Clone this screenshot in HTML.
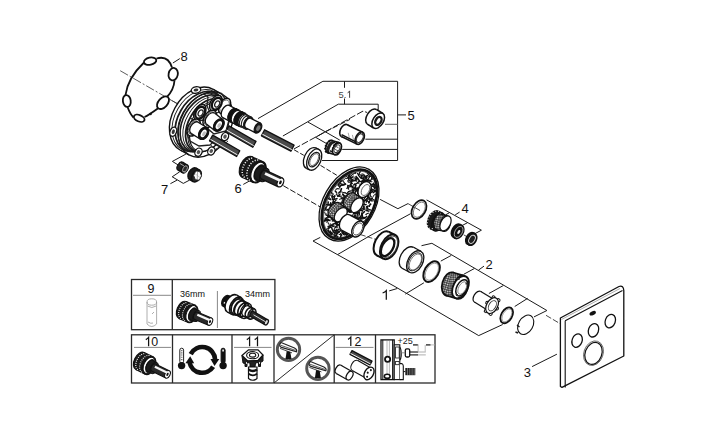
<!DOCTYPE html>
<html><head><meta charset="utf-8">
<style>
html,body{margin:0;padding:0;background:#fff;width:710px;height:434px;overflow:hidden}
svg{display:block}
text{font-family:"Liberation Sans",sans-serif}
</style></head><body>
<svg width="710" height="434" viewBox="0 0 710 434">
<rect width="710" height="434" fill="#fff"/>
<path d="M258.0,118.6 L322.9,81.3 L397.6,81.3 L397.6,160.5" fill="none" stroke="#1a1a1a" stroke-width="1.0"/>
<path d="M344.5,81.3 L344.5,87.8" fill="none" stroke="#1a1a1a" stroke-width="1.0"/>
<path d="M344.5,98.5 L344.5,104.2" fill="none" stroke="#1a1a1a" stroke-width="1.0"/>
<path d="M282.9,136.0 L338.3,104.2 L378.2,104.2 L378.2,109.8" fill="none" stroke="#1a1a1a" stroke-width="1.0"/>
<path d="M293.9,149.0 L363.0,111.1 L367.2,112.5" fill="none" stroke="#1a1a1a" stroke-width="1.0" stroke-dasharray="7 2"/>
<path d="M308.0,122.1 L325.3,131.8 L339.8,140.1" fill="none" stroke="#1a1a1a" stroke-width="1.0"/>
<path d="M325.3,131.8 L350.0,119.4" fill="none" stroke="#1a1a1a" stroke-width="1.0" stroke-dasharray="6 2"/>
<path d="M315.6,137.3 L325.3,131.8" fill="none" stroke="#1a1a1a" stroke-width="1.0"/>
<path d="M315.6,137.3 L327.3,144.0" fill="none" stroke="#1a1a1a" stroke-width="1.0"/>
<path d="M385.0,124.3 L397.6,124.3" fill="none" stroke="#666" stroke-width="1.0"/>
<path d="M365.4,139.2 L397.6,139.2" fill="none" stroke="#1a1a1a" stroke-width="1.0"/>
<path d="M342.2,149.4 L397.6,149.4" fill="none" stroke="#1a1a1a" stroke-width="1.0"/>
<path d="M322.0,160.5 L397.6,160.5" fill="none" stroke="#1a1a1a" stroke-width="1.0"/>
<path d="M397.6,114.9 L406.0,114.9" fill="none" stroke="#1a1a1a" stroke-width="1.0"/>
<path d="M294.1,149.8 L303.8,155.3" fill="none" stroke="#1a1a1a" stroke-width="1.0" stroke-dasharray="5 2"/>
<path d="M320.5,165.4 L338.0,176.0" fill="none" stroke="#1a1a1a" stroke-width="1.0" stroke-dasharray="5 2"/>
<path d="M172.9,63.0 L179.8,58.6" fill="none" stroke="#1a1a1a" stroke-width="1.0"/>
<path d="M120.2,70.7 L177.2,103.6" fill="none" stroke="#333" stroke-width="0.8" stroke-dasharray="9 2 2 2"/>
<path d="M185.9,154.1 L172.4,161.4 L178.2,165.0" fill="none" stroke="#1a1a1a" stroke-width="1.0"/>
<path d="M179.7,171.8 L172.2,176.8 L183.3,183.4 L189.6,180.1" fill="none" stroke="#1a1a1a" stroke-width="1.0"/>
<path d="M170.4,183.7 L177.1,180.1" fill="none" stroke="#1a1a1a" stroke-width="1.0"/>
<path d="M243.3,184.4 L250.9,180.2" fill="none" stroke="#1a1a1a" stroke-width="1.0"/>
<path d="M283.3,185.7 L320.0,206.8" fill="none" stroke="#1a1a1a" stroke-width="1.0" stroke-dasharray="6 2"/>
<text x="180.5" y="61.2" font-size="13" fill="#111">8</text>
<text x="161" y="193.6" font-size="13" fill="#111">7</text>
<text x="234.6" y="192.6" font-size="13" fill="#111">6</text>
<text x="407.6" y="119.9" font-size="13" fill="#111">5</text>
<text x="461.4" y="213.3" font-size="13" fill="#111">4</text>
<text x="485.6" y="269.3" font-size="13" fill="#111">2</text>
<path d="M382.6,293.0 Q385.1,292.09999999999997 386.3,290.7 L386.3,299.8" fill="none" stroke="#111" stroke-width="1.25"/>
<text x="523.8" y="377.1" font-size="13" fill="#111">3</text>
<text x="338.6" y="97.8" font-size="9.4" fill="#444">5.</text>
<path d="M347.6,92.8 Q349.1,92.3 349.6,90.9 L349.6,97.8" fill="none" stroke="#444" stroke-width="1"/>
<ellipse cx="372.0" cy="116.8" rx="5.2" ry="8.6" transform="rotate(32.17121712854467 372.0 116.8)" fill="#fff" stroke="#111" stroke-width="1.5" />
<path d="M367.4,124.1 L373.6,128.0 L382.8,113.4 L376.6,109.5Z" fill="#fff" stroke="none"/>
<path d="M367.4,124.1 L373.6,128.0" fill="none" stroke="#111" stroke-width="1.5"/>
<path d="M376.6,109.5 L382.8,113.4" fill="none" stroke="#111" stroke-width="1.5"/>
<ellipse cx="378.2" cy="120.7" rx="5.2" ry="8.6" transform="rotate(32.17121712854467 378.2 120.7)" fill="#fff" stroke="#111" stroke-width="1.5" />
<ellipse cx="378.4" cy="120.9" rx="2.7" ry="4.3" transform="rotate(30 378.4 120.9)" fill="#fff" stroke="#1a1a1a" stroke-width="2.4" />
<ellipse cx="344.3" cy="130.6" rx="4.0" ry="6.6" transform="rotate(26.11975615699283 344.3 130.6)" fill="#fff" stroke="#111" stroke-width="1.6" />
<path d="M341.4,136.5 L356.9,144.1 L362.7,132.3 L347.2,124.7Z" fill="#fff" stroke="none"/>
<path d="M341.4,136.5 L356.9,144.1" fill="none" stroke="#111" stroke-width="1.6"/>
<path d="M347.2,124.7 L362.7,132.3" fill="none" stroke="#111" stroke-width="1.6"/>
<ellipse cx="359.8" cy="138.2" rx="4.0" ry="6.6" transform="rotate(26.11975615699283 359.8 138.2)" fill="#fff" stroke="#111" stroke-width="1.6" />
<path d="M348.2,132.8 L349.3,137.6" fill="none" stroke="#666" stroke-width="0.6"/>
<path d="M352.4,134.9 L353.5,139.7" fill="none" stroke="#666" stroke-width="0.6"/>
<path d="M356.6,137.1 L357.6,141.8" fill="none" stroke="#666" stroke-width="0.6"/>
<path d="M341.6,134.6 L356.8,142.4" fill="none" stroke="#111" stroke-width="1.6"/>
<ellipse cx="359.8" cy="138.2" rx="2.8" ry="4.6" transform="rotate(30 359.8 138.2)" fill="#fff" stroke="#333" stroke-width="1.0" />
<ellipse cx="359.8" cy="138.2" rx="3.4" ry="5.4" transform="rotate(30 359.8 138.2)" fill="none" stroke="#222" stroke-width="1" stroke-dasharray="1 1"/>
<ellipse cx="329.8" cy="146.6" rx="3.8" ry="6.4" transform="rotate(16.26020470831194 329.8 146.6)" fill="#fff" stroke="#111" stroke-width="1.6" />
<path d="M328.0,152.7 L335.2,154.8 L338.8,142.6 L331.6,140.5Z" fill="#fff" stroke="none"/>
<path d="M328.0,152.7 L335.2,154.8" fill="none" stroke="#111" stroke-width="1.6"/>
<path d="M331.6,140.5 L338.8,142.6" fill="none" stroke="#111" stroke-width="1.6"/>
<ellipse cx="337.0" cy="148.7" rx="3.8" ry="6.4" transform="rotate(16.26020470831194 337.0 148.7)" fill="#fff" stroke="#111" stroke-width="1.6" />
<path d="M332.8,141.3 A3.8,6.4 28 0 0 327,152 L330,153.5 A3.8,6.4 28 0 1 335.5,142.8 Z" fill="#222"/>
<ellipse cx="329.8" cy="146.6" rx="3.9" ry="6.4" transform="rotate(28 329.8 146.6)" fill="none" stroke="#111" stroke-width="2.2" stroke-dasharray="1.6 1.2"/>
<ellipse cx="337.0" cy="148.7" rx="3.8" ry="6.3" transform="rotate(30 337.0 148.7)" fill="#fff" stroke="#111" stroke-width="1.6" />
<ellipse cx="337.0" cy="148.7" rx="2.4" ry="4.2" transform="rotate(30 337.0 148.7)" fill="none" stroke="#333" stroke-width="1.0" />
<path d="M335.2,146.0 L338.5,147.8" fill="none" stroke="#333" stroke-width="0.8"/>
<path d="M334.8,149.2 L338.2,151.0" fill="none" stroke="#333" stroke-width="0.8"/>
<ellipse cx="311.0" cy="158.2" rx="6.7" ry="11.2" transform="rotate(23.629377730656977 311.0 158.2)" fill="#fff" stroke="#111" stroke-width="1.3" />
<path d="M306.5,168.5 L309.7,169.9 L318.7,149.3 L315.5,147.9Z" fill="#fff" stroke="none"/>
<path d="M306.5,168.5 L309.7,169.9" fill="none" stroke="#111" stroke-width="1.3"/>
<path d="M315.5,147.9 L318.7,149.3" fill="none" stroke="#111" stroke-width="1.3"/>
<ellipse cx="314.2" cy="159.6" rx="6.7" ry="11.2" transform="rotate(23.629377730656977 314.2 159.6)" fill="#fff" stroke="#111" stroke-width="1.3" />
<ellipse cx="314.2" cy="159.6" rx="4.6" ry="8.0" transform="rotate(30 314.2 159.6)" fill="none" stroke="#1a1a1a" stroke-width="1.2" />
<ellipse cx="314.2" cy="159.6" rx="3.4" ry="6.6" transform="rotate(30 314.2 159.6)" fill="none" stroke="#444" stroke-width="0.7" />
<path d="M156.5,58.5 C163,56.5 169,58 172,67.5 M174.5,80.5 C174,88 170,94 166.5,97.5 M158.5,108 C153,112 148,115.5 144.5,117 M133.5,117.5 C131,115 129,111 127.5,107 M125.5,95 C127,84 134,72 144,62.5" fill="none" stroke="#111" stroke-width="1.8"/>
<ellipse cx="150.1" cy="61.2" rx="6.3" ry="3.6" transform="rotate(-12 150.1 61.2)" fill="#fff" stroke="#111" stroke-width="1.8" />
<ellipse cx="173.2" cy="74.2" rx="4.6" ry="6.3" transform="rotate(12 173.2 74.2)" fill="#fff" stroke="#111" stroke-width="1.8" />
<ellipse cx="163.0" cy="102.7" rx="7.4" ry="4.6" transform="rotate(-48 163.0 102.7)" fill="#fff" stroke="#111" stroke-width="1.8" />
<ellipse cx="126.8" cy="101.0" rx="3.9" ry="6.0" transform="rotate(-8 126.8 101.0)" fill="#fff" stroke="#111" stroke-width="1.8" />
<ellipse cx="139.2" cy="118.3" rx="5.6" ry="3.2" transform="rotate(22 139.2 118.3)" fill="#fff" stroke="#111" stroke-width="1.8" />
<circle cx="150.5" cy="114" r="1.3" fill="#111"/>
<path d="M169.6,99.3 L177.7,103.9" fill="none" stroke="#333" stroke-width="0.8"/>
<ellipse cx="196.8" cy="119.8" rx="24.9" ry="34.6" transform="rotate(28.37924308610799 196.8 119.8)" fill="#fff" stroke="#111" stroke-width="1.4" />
<path d="M180.4,150.2 L189.1,154.9 L221.9,94.1 L213.2,89.4Z" fill="#fff" stroke="none"/>
<path d="M180.4,150.2 L189.1,154.9" fill="none" stroke="#111" stroke-width="1.4"/>
<path d="M213.2,89.4 L221.9,94.1" fill="none" stroke="#111" stroke-width="1.4"/>
<ellipse cx="205.5" cy="124.5" rx="24.9" ry="34.6" transform="rotate(28.37924308610799 205.5 124.5)" fill="#fff" stroke="#111" stroke-width="1.4" />
<ellipse cx="198.3" cy="120.6" rx="23.5" ry="33.2" transform="rotate(30 198.3 120.6)" fill="none" stroke="#1a1a1a" stroke-width="0.9" />
<ellipse cx="200.2" cy="121.6" rx="22.3" ry="32.2" transform="rotate(30 200.2 121.6)" fill="none" stroke="#1a1a1a" stroke-width="1.7" />
<ellipse cx="201.9" cy="122.5" rx="21.4" ry="31.4" transform="rotate(30 201.9 122.5)" fill="none" stroke="#1a1a1a" stroke-width="0.9" />
<ellipse cx="203.5" cy="123.4" rx="20.4" ry="30.6" transform="rotate(30 203.5 123.4)" fill="none" stroke="#1a1a1a" stroke-width="1.6" />
<ellipse cx="205.2" cy="124.2" rx="19.4" ry="29.7" transform="rotate(30 205.2 124.2)" fill="none" stroke="#1a1a1a" stroke-width="0.9" />
<ellipse cx="207.0" cy="125.2" rx="18.4" ry="28.8" transform="rotate(30 207.0 125.2)" fill="none" stroke="#1a1a1a" stroke-width="1.8" />
<ellipse cx="208.5" cy="126.0" rx="17.6" ry="28.0" transform="rotate(30 208.5 126.0)" fill="none" stroke="#1a1a1a" stroke-width="1.0" />
<ellipse cx="209.5" cy="126.5" rx="16.8" ry="27.2" transform="rotate(30 209.5 126.5)" fill="#fff" stroke="#111" stroke-width="1.2" />
<ellipse cx="173.3" cy="131.7" rx="3.2" ry="4.8" transform="rotate(20 173.3 131.7)" fill="#fff" stroke="#111" stroke-width="1.3" />
<ellipse cx="173.3" cy="131.7" rx="1.5" ry="2.4" transform="rotate(20 173.3 131.7)" fill="#333" stroke="none" stroke-width="0" />
<ellipse cx="196.0" cy="90.0" rx="3.2" ry="4.8" transform="rotate(80 196.0 90.0)" fill="#fff" stroke="#111" stroke-width="1.3" />
<ellipse cx="196.0" cy="90.0" rx="1.5" ry="2.4" transform="rotate(80 196.0 90.0)" fill="#333" stroke="none" stroke-width="0" />
<path d="M204.0,94.0 L208.0,97.0 L207.0,106.0 L211.0,115.0 L222.0,111.0 L226.0,100.0 L221.0,93.0" fill="none" stroke="#222" stroke-width="1.3"/>
<path d="M190.0,118.0 L196.0,121.0 L204.0,120.0 L207.0,128.0 L214.0,134.0 L226.0,131.0 L229.0,120.0" fill="none" stroke="#222" stroke-width="1.3"/>
<path d="M186.0,132.0 L190.0,141.0 L199.0,146.0 L210.0,145.0 L216.0,139.0" fill="none" stroke="#222" stroke-width="1.3"/>
<path d="M211.0,145.0 L214.0,150.0 L222.0,146.0 L228.0,141.0" fill="none" stroke="#333" stroke-width="1.0"/>
<ellipse cx="225.0" cy="136.6" rx="3.4" ry="4.2" transform="rotate(30 225.0 136.6)" fill="#fff" stroke="#111" stroke-width="1.3" />
<ellipse cx="225.0" cy="136.6" rx="1.7" ry="2.1" transform="rotate(30 225.0 136.6)" fill="#555" stroke="none" stroke-width="0" />
<ellipse cx="211.3" cy="151.0" rx="3.4" ry="4.2" transform="rotate(30 211.3 151.0)" fill="#fff" stroke="#111" stroke-width="1.3" />
<ellipse cx="211.3" cy="151.0" rx="1.7" ry="2.1" transform="rotate(30 211.3 151.0)" fill="#555" stroke="none" stroke-width="0" />
<ellipse cx="198.5" cy="152.2" rx="3.4" ry="4.3" transform="rotate(30 198.5 152.2)" fill="#fff" stroke="#111" stroke-width="1.3" />
<ellipse cx="198.5" cy="152.2" rx="1.7" ry="2.1" transform="rotate(30 198.5 152.2)" fill="#555" stroke="none" stroke-width="0" />
<ellipse cx="215.8" cy="103.2" rx="5.3" ry="8.6" transform="rotate(30 215.8 103.2)" fill="#fff" stroke="#111" stroke-width="1.5" />
<ellipse cx="215.8" cy="103.2" rx="4.2" ry="6.8" transform="rotate(30 215.8 103.2)" fill="none" stroke="#444" stroke-width="0.8" />
<ellipse cx="199.8" cy="112.2" rx="5.2" ry="8.4" transform="rotate(30 199.8 112.2)" fill="#fff" stroke="#111" stroke-width="1.5" />
<ellipse cx="199.8" cy="112.2" rx="4.1" ry="6.6" transform="rotate(30 199.8 112.2)" fill="none" stroke="#444" stroke-width="0.8" />
<ellipse cx="209.8" cy="118.8" rx="5.8" ry="9.4" transform="rotate(30 209.8 118.8)" fill="#fff" stroke="#111" stroke-width="1.5" />
<ellipse cx="209.8" cy="118.8" rx="4.7" ry="7.6" transform="rotate(30 209.8 118.8)" fill="none" stroke="#444" stroke-width="0.8" />
<ellipse cx="193.8" cy="127.6" rx="5.7" ry="9.2" transform="rotate(30 193.8 127.6)" fill="#fff" stroke="#111" stroke-width="1.5" />
<ellipse cx="193.8" cy="127.6" rx="4.6" ry="7.4" transform="rotate(30 193.8 127.6)" fill="none" stroke="#444" stroke-width="0.8" />
<ellipse cx="224.5" cy="106.0" rx="5.2" ry="8.4" transform="rotate(30 224.5 106.0)" fill="#fff" stroke="#111" stroke-width="1.5" />
<ellipse cx="224.5" cy="106.0" rx="4.1" ry="6.6" transform="rotate(30 224.5 106.0)" fill="none" stroke="#444" stroke-width="0.8" />
<ellipse cx="216.8" cy="103.7" rx="4.4" ry="6.3" transform="rotate(30 216.8 103.7)" fill="#fff" stroke="#111" stroke-width="2.2" />
<ellipse cx="217.2" cy="104.0" rx="2.2" ry="3.3" transform="rotate(30 217.2 104.0)" fill="#fff" stroke="#222" stroke-width="1.2" />
<ellipse cx="200.2" cy="112.7" rx="4.4" ry="6.3" transform="rotate(30 200.2 112.7)" fill="#fff" stroke="#111" stroke-width="2.2" />
<ellipse cx="200.6" cy="113.0" rx="2.2" ry="3.3" transform="rotate(30 200.6 113.0)" fill="#fff" stroke="#222" stroke-width="1.2" />
<ellipse cx="210.6" cy="118.6" rx="4.2" ry="6.8" transform="rotate(38.40326170210573 210.6 118.6)" fill="#fff" stroke="#111" stroke-width="1.3" />
<path d="M206.4,123.9 L214.6,130.4 L223.0,119.8 L214.8,113.3Z" fill="#fff" stroke="none"/>
<path d="M206.4,123.9 L214.6,130.4" fill="none" stroke="#111" stroke-width="1.3"/>
<path d="M214.8,113.3 L223.0,119.8" fill="none" stroke="#111" stroke-width="1.3"/>
<ellipse cx="218.8" cy="125.1" rx="4.2" ry="6.8" transform="rotate(38.40326170210573 218.8 125.1)" fill="#fff" stroke="#111" stroke-width="1.3" />
<ellipse cx="218.8" cy="125.1" rx="3.9" ry="5.8" transform="rotate(30 218.8 125.1)" fill="#fff" stroke="#111" stroke-width="2.8" />
<ellipse cx="219.2" cy="125.4" rx="1.6" ry="2.6" transform="rotate(30 219.2 125.4)" fill="#bbb" stroke="none" stroke-width="0" />
<ellipse cx="194.6" cy="127.8" rx="4.1" ry="6.6" transform="rotate(31.890791801845747 194.6 127.8)" fill="#fff" stroke="#111" stroke-width="1.3" />
<path d="M191.1,133.4 L200.1,139.0 L207.1,127.8 L198.1,122.2Z" fill="#fff" stroke="none"/>
<path d="M191.1,133.4 L200.1,139.0" fill="none" stroke="#111" stroke-width="1.3"/>
<path d="M198.1,122.2 L207.1,127.8" fill="none" stroke="#111" stroke-width="1.3"/>
<ellipse cx="203.6" cy="133.4" rx="4.1" ry="6.6" transform="rotate(31.890791801845747 203.6 133.4)" fill="#fff" stroke="#111" stroke-width="1.3" />
<ellipse cx="203.6" cy="133.4" rx="3.8" ry="5.6" transform="rotate(30 203.6 133.4)" fill="#fff" stroke="#111" stroke-width="2.8" />
<ellipse cx="204.0" cy="133.7" rx="1.6" ry="2.6" transform="rotate(30 204.0 133.7)" fill="#bbb" stroke="none" stroke-width="0" />
<path d="M209.5,140.9 L236.6,156.5 L239.8,150.7 L212.7,135.1Z" fill="#4a4a4a" stroke="#111" stroke-width="1.3" stroke-linejoin="round"/>
<path d="M210.4,139.3 L237.5,154.9" fill="none" stroke="#eee" stroke-width="1.0"/>
<path d="M225.7,131.7 L252.8,147.2 L256.0,141.4 L228.9,125.9Z" fill="#4a4a4a" stroke="#111" stroke-width="1.3" stroke-linejoin="round"/>
<path d="M226.6,130.1 L253.7,145.6" fill="none" stroke="#eee" stroke-width="1.0"/>
<path d="M261.4,135.8 L290.9,151.2 L294.1,145.2 L264.6,129.8Z" fill="#4a4a4a" stroke="#111" stroke-width="1.3" stroke-linejoin="round"/>
<path d="M262.3,134.2 L291.8,149.6" fill="none" stroke="#eee" stroke-width="1.0"/>
<ellipse cx="226.0" cy="111.5" rx="4.1" ry="6.9" transform="rotate(27.824096384253277 226.0 111.5)" fill="#fff" stroke="#111" stroke-width="1.3" />
<path d="M222.8,117.6 L230.0,121.4 L236.4,109.2 L229.2,105.4Z" fill="#fff" stroke="none"/>
<path d="M222.8,117.6 L230.0,121.4" fill="none" stroke="#111" stroke-width="1.3"/>
<path d="M229.2,105.4 L236.4,109.2" fill="none" stroke="#111" stroke-width="1.3"/>
<ellipse cx="233.2" cy="115.3" rx="4.1" ry="6.9" transform="rotate(27.824096384253277 233.2 115.3)" fill="#fff" stroke="#111" stroke-width="1.3" />
<ellipse cx="232.8" cy="115.1" rx="4.3" ry="7.1" transform="rotate(26.565051177078193 232.8 115.1)" fill="#111" stroke="#111" stroke-width="1.3" />
<path d="M229.6,121.5 L232.8,123.1 L239.2,110.3 L236.0,108.7Z" fill="#111" stroke="none"/>
<path d="M229.6,121.5 L232.8,123.1" fill="none" stroke="#111" stroke-width="1.3"/>
<path d="M236.0,108.7 L239.2,110.3" fill="none" stroke="#111" stroke-width="1.3"/>
<ellipse cx="236.0" cy="116.7" rx="4.3" ry="7.1" transform="rotate(26.565051177078193 236.0 116.7)" fill="#fff" stroke="#111" stroke-width="1.3" />
<ellipse cx="236.0" cy="116.7" rx="4.1" ry="6.9" transform="rotate(28.072486935852876 236.0 116.7)" fill="#fff" stroke="#111" stroke-width="1.3" />
<path d="M232.8,122.8 L235.8,124.4 L242.2,112.2 L239.2,110.6Z" fill="#fff" stroke="none"/>
<path d="M232.8,122.8 L235.8,124.4" fill="none" stroke="#111" stroke-width="1.3"/>
<path d="M239.2,110.6 L242.2,112.2" fill="none" stroke="#111" stroke-width="1.3"/>
<ellipse cx="239.0" cy="118.3" rx="4.1" ry="6.9" transform="rotate(28.072486935852876 239.0 118.3)" fill="#fff" stroke="#111" stroke-width="1.3" />
<ellipse cx="239.0" cy="118.3" rx="4.3" ry="7.1" transform="rotate(26.56505117707799 239.0 118.3)" fill="#111" stroke="#111" stroke-width="1.3" />
<path d="M235.8,124.7 L239.4,126.5 L245.8,113.7 L242.2,111.9Z" fill="#111" stroke="none"/>
<path d="M235.8,124.7 L239.4,126.5" fill="none" stroke="#111" stroke-width="1.3"/>
<path d="M242.2,111.9 L245.8,113.7" fill="none" stroke="#111" stroke-width="1.3"/>
<ellipse cx="242.6" cy="120.1" rx="4.3" ry="7.1" transform="rotate(26.56505117707799 242.6 120.1)" fill="#fff" stroke="#111" stroke-width="1.3" />
<ellipse cx="242.6" cy="120.1" rx="3.9" ry="6.5" transform="rotate(27.7185016281834 242.6 120.1)" fill="#fff" stroke="#111" stroke-width="1.3" />
<path d="M239.6,125.9 L245.5,129.0 L251.5,117.4 L245.6,114.3Z" fill="#fff" stroke="none"/>
<path d="M239.6,125.9 L245.5,129.0" fill="none" stroke="#111" stroke-width="1.3"/>
<path d="M245.6,114.3 L251.5,117.4" fill="none" stroke="#111" stroke-width="1.3"/>
<ellipse cx="248.5" cy="123.2" rx="3.9" ry="6.5" transform="rotate(27.7185016281834 248.5 123.2)" fill="#fff" stroke="#111" stroke-width="1.3" />
<ellipse cx="243.8" cy="120.7" rx="3.8" ry="6.4" transform="rotate(28 243.8 120.7)" fill="none" stroke="#222" stroke-width="1.1" />
<ellipse cx="245.8" cy="121.8" rx="3.8" ry="6.4" transform="rotate(28 245.8 121.8)" fill="none" stroke="#222" stroke-width="1.1" />
<ellipse cx="247.9" cy="122.9" rx="3.8" ry="6.4" transform="rotate(28 247.9 122.9)" fill="none" stroke="#222" stroke-width="1.1" />
<ellipse cx="248.5" cy="123.2" rx="3.2" ry="5.4" transform="rotate(26.80578832979978 248.5 123.2)" fill="#fff" stroke="#111" stroke-width="1.4" />
<path d="M246.1,128.0 L255.6,132.8 L260.4,123.2 L250.9,118.4Z" fill="#fff" stroke="none"/>
<path d="M246.1,128.0 L255.6,132.8" fill="none" stroke="#111" stroke-width="1.4"/>
<path d="M250.9,118.4 L260.4,123.2" fill="none" stroke="#111" stroke-width="1.4"/>
<ellipse cx="258.0" cy="128.0" rx="3.2" ry="5.4" transform="rotate(26.80578832979978 258.0 128.0)" fill="#1a1a1a" stroke="#111" stroke-width="1.4" />
<ellipse cx="258.3" cy="128.2" rx="1.8" ry="3.0" transform="rotate(28 258.3 128.2)" fill="#777" stroke="none" stroke-width="0" />
<ellipse cx="180.5" cy="166.2" rx="2.9" ry="4.6" transform="rotate(31.159304508344533 180.5 166.2)" fill="#222" stroke="#111" stroke-width="1.2" />
<path d="M178.1,170.1 L182.4,172.7 L187.2,164.9 L182.9,162.3Z" fill="#222" stroke="none"/>
<path d="M178.1,170.1 L182.4,172.7" fill="none" stroke="#111" stroke-width="1.2"/>
<path d="M182.9,162.3 L187.2,164.9" fill="none" stroke="#111" stroke-width="1.2"/>
<ellipse cx="184.8" cy="168.8" rx="2.9" ry="4.6" transform="rotate(31.159304508344533 184.8 168.8)" fill="#2a2a2a" stroke="#111" stroke-width="1.2" />
<path d="M180.0,163.5 L184.0,166.0" fill="none" stroke="#ccc" stroke-width="0.8"/>
<path d="M182.5,171.0 L186.0,172.5" fill="none" stroke="#aaa" stroke-width="0.6"/>
<ellipse cx="185.0" cy="168.9" rx="2.0" ry="3.4" transform="rotate(30 185.0 168.9)" fill="none" stroke="#bbb" stroke-width="0.7" />
<ellipse cx="192.8" cy="173.8" rx="4.1" ry="6.6" transform="rotate(30.73548770192005 192.8 173.8)" fill="#1c1c1c" stroke="#111" stroke-width="1.4" />
<path d="M189.4,179.5 L193.1,181.7 L199.9,170.3 L196.2,168.1Z" fill="#1c1c1c" stroke="none"/>
<path d="M189.4,179.5 L193.1,181.7" fill="none" stroke="#111" stroke-width="1.4"/>
<path d="M196.2,168.1 L199.9,170.3" fill="none" stroke="#111" stroke-width="1.4"/>
<ellipse cx="196.5" cy="176.0" rx="4.1" ry="6.6" transform="rotate(30.73548770192005 196.5 176.0)" fill="#2a2a2a" stroke="#111" stroke-width="1.4" />
<path d="M195.8,171 L199.8,171.6 L201.5,175.8 L199.3,180.2 L195.3,179.7 L193.6,175.4 Z" fill="#fff" stroke="#222" stroke-width="0.9"/>
<path d="M197.6,171.4 L197.2,179.9" fill="none" stroke="#777" stroke-width="0.6"/>
<path d="M194.5,173.2 L200.5,178.0" fill="none" stroke="#999" stroke-width="0.5"/>
<ellipse cx="349.0" cy="204.0" rx="25.8" ry="40.0" transform="rotate(30 349.0 204.0)" fill="#fff" stroke="#111" stroke-width="1.3" />
<ellipse cx="349.4" cy="204.2" rx="23.6" ry="37.6" transform="rotate(30 349.4 204.2)" fill="#6a6a6a" stroke="#111" stroke-width="2.6" />
<clipPath id="discclip"><ellipse cx="349.8" cy="204.5" rx="22.5" ry="36" transform="rotate(30 349.8 204.5)"/></clipPath>
<g clip-path="url(#discclip)">
<ellipse cx="349.8" cy="204.5" rx="21.6" ry="35.6" transform="rotate(30 349.8 204.5)" fill="#fff"/>
<path d="M340.2,213.4 Q339.5,211.4 338.3,210.7" fill="none" stroke="#111" stroke-width="0.9"/>
<path d="M346.3,202.1 Q342.7,202.4 343.3,203.4" fill="none" stroke="#111" stroke-width="1.5"/>
<path d="M350.2,218.5 Q348.3,215.6 345.5,213.7" fill="none" stroke="#111" stroke-width="1.6"/>
<path d="M361.9,222.6 Q359.5,223.4 361.0,226.1" fill="none" stroke="#111" stroke-width="1.5"/>
<path d="M343.5,229.6 Q342.3,225.7 340.6,226.2" fill="none" stroke="#111" stroke-width="0.9"/>
<path d="M339.8,231.7 Q338.3,232.4 336.0,233.6" fill="none" stroke="#111" stroke-width="1.1"/>
<path d="M368.7,182.0 Q368.9,186.5 368.8,187.3" fill="none" stroke="#111" stroke-width="1.4"/>
<path d="M328.0,231.9 Q331.0,231.8 331.5,235.1" fill="none" stroke="#111" stroke-width="1.2"/>
<path d="M361.3,219.4 Q363.4,215.9 361.8,214.2" fill="none" stroke="#111" stroke-width="1.4"/>
<path d="M345.4,184.3 Q344.6,185.0 339.3,186.0" fill="none" stroke="#111" stroke-width="1.4"/>
<path d="M359.0,222.8 Q358.5,218.9 354.8,217.2" fill="none" stroke="#111" stroke-width="1.2"/>
<path d="M350.8,199.6 Q347.1,197.8 347.2,200.5" fill="none" stroke="#111" stroke-width="1.4"/>
<path d="M349.8,219.5 Q345.2,221.3 344.8,223.6" fill="none" stroke="#111" stroke-width="1.3"/>
<path d="M373.5,193.0 Q374.4,190.8 376.2,189.9" fill="none" stroke="#111" stroke-width="1.5"/>
<path d="M358.8,205.4 Q358.3,207.1 360.5,209.0" fill="none" stroke="#111" stroke-width="1.3"/>
<path d="M348.6,206.4 Q346.9,209.8 344.6,208.6" fill="none" stroke="#111" stroke-width="1.4"/>
<path d="M336.3,193.5 Q337.6,193.5 334.8,190.6" fill="none" stroke="#111" stroke-width="1.5"/>
<path d="M364.1,187.9 Q363.4,186.7 361.4,189.9" fill="none" stroke="#111" stroke-width="0.9"/>
<path d="M344.8,217.8 Q341.4,217.4 343.0,220.5" fill="none" stroke="#111" stroke-width="1.0"/>
<path d="M345.6,207.1 Q345.8,203.9 349.5,203.2" fill="none" stroke="#111" stroke-width="1.1"/>
<path d="M340.7,210.2 Q342.5,207.3 344.7,204.5" fill="none" stroke="#111" stroke-width="1.0"/>
<path d="M352.4,220.6 Q350.4,221.3 351.8,226.9" fill="none" stroke="#111" stroke-width="1.6"/>
<path d="M343.8,198.2 Q342.5,200.2 340.8,197.4" fill="none" stroke="#111" stroke-width="1.5"/>
<path d="M355.2,187.6 Q355.4,189.1 352.8,190.3" fill="none" stroke="#111" stroke-width="1.4"/>
<path d="M338.0,214.9 Q341.1,213.2 340.6,208.5" fill="none" stroke="#111" stroke-width="1.5"/>
<path d="M357.8,189.4 Q353.2,186.7 353.4,188.9" fill="none" stroke="#111" stroke-width="1.1"/>
<path d="M333.9,229.9 Q338.4,231.7 338.5,228.6" fill="none" stroke="#111" stroke-width="1.6"/>
<path d="M337.5,212.1 Q336.3,214.6 338.1,215.8" fill="none" stroke="#111" stroke-width="1.5"/>
<path d="M367.4,190.4 Q363.6,188.7 363.9,185.3" fill="none" stroke="#111" stroke-width="1.5"/>
<path d="M368.4,180.0 Q368.0,179.4 364.7,180.5" fill="none" stroke="#111" stroke-width="1.5"/>
<path d="M363.6,207.8 Q362.0,208.2 358.1,211.8" fill="none" stroke="#111" stroke-width="1.0"/>
<path d="M346.4,234.7 Q348.7,235.4 347.7,231.3" fill="none" stroke="#111" stroke-width="1.4"/>
<path d="M330.7,218.3 Q334.1,220.2 332.8,220.6" fill="none" stroke="#111" stroke-width="1.3"/>
<path d="M366.1,202.8 Q366.8,199.3 370.4,198.3" fill="none" stroke="#111" stroke-width="1.1"/>
<path d="M336.9,228.8 Q334.9,233.2 336.6,233.5" fill="none" stroke="#111" stroke-width="1.1"/>
<path d="M332.2,202.6 Q336.2,201.3 336.0,199.9" fill="none" stroke="#111" stroke-width="1.3"/>
<path d="M347.6,202.4 Q343.4,204.6 344.1,203.8" fill="none" stroke="#111" stroke-width="1.0"/>
<path d="M331.3,199.7 Q329.3,199.2 327.2,198.2" fill="none" stroke="#111" stroke-width="1.4"/>
<path d="M352.7,225.4 Q354.1,227.5 352.7,229.5" fill="none" stroke="#111" stroke-width="1.3"/>
<path d="M368.1,175.4 Q365.6,176.4 363.0,177.3" fill="none" stroke="#111" stroke-width="1.4"/>
<path d="M332.6,203.5 Q330.3,205.9 325.9,204.5" fill="none" stroke="#111" stroke-width="1.6"/>
<path d="M335.5,227.3 Q336.7,224.3 341.5,225.1" fill="none" stroke="#111" stroke-width="1.2"/>
<path d="M354.3,216.1 Q358.3,219.3 359.4,218.6" fill="none" stroke="#111" stroke-width="1.0"/>
<path d="M360.8,177.9 Q365.2,179.0 364.9,183.0" fill="none" stroke="#111" stroke-width="1.6"/>
<path d="M331.6,211.3 Q333.1,210.8 337.9,210.9" fill="none" stroke="#111" stroke-width="1.3"/>
<path d="M338.6,213.6 Q334.9,216.5 336.1,219.0" fill="none" stroke="#111" stroke-width="1.2"/>
<path d="M359.5,212.8 Q355.5,213.5 355.9,209.3" fill="none" stroke="#111" stroke-width="1.5"/>
<path d="M356.9,206.2 Q358.1,206.6 356.6,209.4" fill="none" stroke="#111" stroke-width="1.0"/>
<path d="M325.7,209.2 Q324.8,209.5 327.4,205.5" fill="none" stroke="#111" stroke-width="1.3"/>
<path d="M353.2,194.6 Q355.5,193.5 358.6,196.6" fill="none" stroke="#111" stroke-width="1.6"/>
<path d="M350.5,177.1 Q351.1,180.5 356.1,180.3" fill="none" stroke="#111" stroke-width="1.2"/>
<path d="M330.9,219.8 Q330.9,219.0 334.6,218.0" fill="none" stroke="#111" stroke-width="1.1"/>
<path d="M351.1,215.9 Q352.0,215.5 354.7,217.1" fill="none" stroke="#111" stroke-width="1.4"/>
<path d="M334.1,223.9 Q332.7,224.6 336.0,227.9" fill="none" stroke="#111" stroke-width="0.9"/>
<path d="M361.6,180.6 Q364.7,180.9 363.4,185.2" fill="none" stroke="#111" stroke-width="1.5"/>
<path d="M332.4,206.5 Q333.6,205.5 334.7,202.6" fill="none" stroke="#111" stroke-width="1.6"/>
<path d="M326.5,222.7 Q325.3,219.3 325.0,217.4" fill="none" stroke="#111" stroke-width="0.9"/>
<path d="M349.8,212.5 Q348.0,208.5 349.6,208.5" fill="none" stroke="#111" stroke-width="1.5"/>
<path d="M371.2,192.1 Q369.8,193.9 370.4,196.0" fill="none" stroke="#111" stroke-width="1.0"/>
<path d="M337.5,204.5 Q341.1,202.4 344.2,202.9" fill="none" stroke="#111" stroke-width="1.6"/>
<path d="M335.6,219.4 Q337.8,219.5 340.2,219.5" fill="none" stroke="#111" stroke-width="1.0"/>
<path d="M348.5,203.7 Q347.8,203.0 348.2,207.0" fill="none" stroke="#111" stroke-width="0.9"/>
<path d="M338.5,216.9 Q337.6,216.4 334.1,214.3" fill="none" stroke="#111" stroke-width="1.4"/>
<path d="M366.2,196.1 Q362.8,200.3 363.0,202.2" fill="none" stroke="#111" stroke-width="1.4"/>
<path d="M362.1,221.9 Q365.4,221.7 366.4,218.5" fill="none" stroke="#111" stroke-width="1.0"/>
<path d="M338.3,193.5 Q341.5,191.2 341.5,188.1" fill="none" stroke="#111" stroke-width="1.5"/>
<path d="M357.0,177.1 Q355.3,177.9 357.4,180.2" fill="none" stroke="#111" stroke-width="1.0"/>
<path d="M368.7,188.7 Q367.6,186.7 364.8,184.8" fill="none" stroke="#111" stroke-width="0.9"/>
<path d="M369.5,181.5 Q367.8,179.3 364.4,181.4" fill="none" stroke="#111" stroke-width="1.4"/>
<path d="M344.8,213.0 Q343.1,217.1 344.2,218.9" fill="none" stroke="#111" stroke-width="1.6"/>
<path d="M337.6,198.4 Q336.1,199.4 331.9,199.2" fill="none" stroke="#111" stroke-width="1.3"/>
<path d="M353.0,213.8 Q352.0,217.2 352.9,219.8" fill="none" stroke="#111" stroke-width="0.9"/>
<path d="M355.5,215.8 Q355.0,212.2 352.8,210.7" fill="none" stroke="#111" stroke-width="1.3"/>
<path d="M334.4,201.9 Q335.3,206.5 339.2,206.3" fill="none" stroke="#111" stroke-width="1.6"/>
<path d="M361.3,214.2 Q362.5,210.0 364.2,208.0" fill="none" stroke="#111" stroke-width="1.0"/>
<path d="M360.8,204.5 Q359.4,205.8 357.7,202.7" fill="none" stroke="#111" stroke-width="1.0"/>
<path d="M367.2,187.7 Q368.1,187.8 371.6,183.9" fill="none" stroke="#111" stroke-width="1.2"/>
<path d="M350.8,205.4 Q347.4,203.8 346.0,205.7" fill="none" stroke="#111" stroke-width="1.1"/>
<path d="M327.7,226.6 Q332.4,224.7 333.7,226.6" fill="none" stroke="#111" stroke-width="1.5"/>
<path d="M362.3,173.3 Q361.2,178.0 361.2,177.6" fill="none" stroke="#111" stroke-width="1.3"/>
<path d="M332.8,215.5 Q330.5,218.8 332.3,218.7" fill="none" stroke="#111" stroke-width="1.1"/>
<path d="M362.1,203.4 Q360.3,205.3 361.6,208.4" fill="none" stroke="#111" stroke-width="1.6"/>
<path d="M373.4,193.2 Q373.3,191.0 368.9,188.4" fill="none" stroke="#111" stroke-width="1.4"/>
<path d="M360.6,221.6 Q358.5,221.5 354.9,223.4" fill="none" stroke="#111" stroke-width="0.9"/>
<path d="M358.7,203.1 Q355.6,204.7 354.4,203.8" fill="none" stroke="#111" stroke-width="1.6"/>
<path d="M334.3,229.1 Q332.9,229.9 332.6,234.1" fill="none" stroke="#111" stroke-width="1.0"/>
<path d="M338.0,235.9 Q338.1,238.4 334.1,236.0" fill="none" stroke="#111" stroke-width="1.2"/>
<path d="M349.1,218.1 Q348.9,218.0 352.7,220.5" fill="none" stroke="#111" stroke-width="1.1"/>
<path d="M340.7,182.7 Q340.3,180.5 340.7,178.0" fill="none" stroke="#111" stroke-width="1.2"/>
<path d="M343.5,209.7 Q341.0,213.1 342.3,216.4" fill="none" stroke="#111" stroke-width="1.3"/>
<path d="M361.9,196.8 Q361.1,198.5 361.4,200.8" fill="none" stroke="#111" stroke-width="1.6"/>
<path d="M373.8,186.8 Q376.4,189.0 376.9,187.2" fill="none" stroke="#111" stroke-width="1.2"/>
<path d="M349.7,204.2 Q348.7,208.0 344.5,208.4" fill="none" stroke="#111" stroke-width="1.6"/>
<path d="M343.9,214.8 Q346.3,219.1 346.8,219.0" fill="none" stroke="#111" stroke-width="1.4"/>
<path d="M352.4,176.9 Q347.6,179.0 347.3,178.3" fill="none" stroke="#111" stroke-width="1.1"/>
<path d="M370.2,200.2 Q368.4,202.5 369.0,203.5" fill="none" stroke="#111" stroke-width="1.4"/>
<path d="M350.6,212.1 Q347.4,210.3 345.3,211.3" fill="none" stroke="#111" stroke-width="1.3"/>
<path d="M359.6,211.7 Q357.0,214.4 353.0,213.3" fill="none" stroke="#111" stroke-width="1.2"/>
<path d="M341.8,220.4 Q343.7,217.3 347.4,219.0" fill="none" stroke="#111" stroke-width="1.2"/>
<path d="M354.5,183.3 Q356.5,184.7 354.3,188.9" fill="none" stroke="#111" stroke-width="0.9"/>
<path d="M333.4,218.0 Q334.1,217.4 331.8,214.5" fill="none" stroke="#111" stroke-width="1.3"/>
<path d="M338.0,237.0 Q335.4,238.5 335.6,242.8" fill="none" stroke="#111" stroke-width="1.4"/>
<path d="M327.8,230.7 Q324.5,230.4 324.0,230.8" fill="none" stroke="#111" stroke-width="1.4"/>
<path d="M358.9,204.7 Q359.8,204.1 355.9,207.1" fill="none" stroke="#111" stroke-width="0.9"/>
<path d="M356.7,218.1 Q360.5,218.7 362.0,214.2" fill="none" stroke="#111" stroke-width="1.6"/>
<path d="M339.1,214.0 Q339.5,213.7 344.6,211.7" fill="none" stroke="#111" stroke-width="1.2"/>
<path d="M334.7,212.8 Q334.3,213.4 336.2,215.5" fill="none" stroke="#111" stroke-width="1.6"/>
<path d="M350.7,233.7 Q352.9,237.4 351.9,237.9" fill="none" stroke="#111" stroke-width="1.2"/>
<path d="M358.5,218.2 Q354.7,220.0 353.9,223.0" fill="none" stroke="#111" stroke-width="1.5"/>
<path d="M359.6,215.2 Q358.5,210.1 361.9,209.6" fill="none" stroke="#111" stroke-width="0.9"/>
<path d="M362.7,201.8 Q361.8,197.3 362.5,195.2" fill="none" stroke="#111" stroke-width="1.6"/>
<path d="M348.7,189.6 Q347.2,185.0 347.9,185.4" fill="none" stroke="#111" stroke-width="1.4"/>
<path d="M370.1,199.6 Q370.2,199.0 373.0,198.6" fill="none" stroke="#111" stroke-width="1.6"/>
<path d="M364.3,205.5 Q364.3,210.0 364.3,210.2" fill="none" stroke="#111" stroke-width="1.0"/>
<path d="M369.7,182.2 Q371.6,178.6 372.4,176.8" fill="none" stroke="#111" stroke-width="1.1"/>
<path d="M326.8,219.3 Q329.7,218.9 330.1,221.1" fill="none" stroke="#111" stroke-width="0.9"/>
<path d="M360.8,217.4 Q361.1,222.9 357.6,223.5" fill="none" stroke="#111" stroke-width="1.1"/>
<path d="M352.1,212.3 Q348.9,211.0 346.3,212.4" fill="none" stroke="#111" stroke-width="1.2"/>
<path d="M348.6,180.4 Q349.3,175.3 348.5,174.0" fill="none" stroke="#111" stroke-width="1.5"/>
<path d="M332.9,224.8 Q329.3,225.7 328.7,229.1" fill="none" stroke="#111" stroke-width="1.1"/>
<path d="M346.1,234.5 Q343.7,235.9 342.3,232.4" fill="none" stroke="#111" stroke-width="1.3"/>
<path d="M335.7,233.5 Q331.8,230.5 331.8,227.8" fill="none" stroke="#111" stroke-width="1.5"/>
<path d="M374.1,185.1 Q374.2,184.0 378.2,186.1" fill="none" stroke="#111" stroke-width="1.6"/>
<path d="M342.5,180.3 Q340.0,181.4 338.1,184.9" fill="none" stroke="#111" stroke-width="1.4"/>
<path d="M357.6,204.5 Q353.9,202.3 353.1,201.4" fill="none" stroke="#111" stroke-width="1.0"/>
<path d="M343.8,221.2 Q340.1,217.1 339.3,217.9" fill="none" stroke="#111" stroke-width="1.1"/>
<path d="M353.2,190.4 Q354.0,192.4 351.8,193.9" fill="none" stroke="#111" stroke-width="0.9"/>
<path d="M352.7,221.7 Q348.0,219.2 347.4,220.0" fill="none" stroke="#111" stroke-width="1.4"/>
<path d="M336.1,208.5 Q334.0,212.0 333.7,214.8" fill="none" stroke="#111" stroke-width="1.2"/>
<path d="M326.1,210.2 Q326.8,211.3 330.5,210.1" fill="none" stroke="#111" stroke-width="1.0"/>
<path d="M367.2,216.0 Q364.0,219.4 361.7,218.9" fill="none" stroke="#111" stroke-width="1.2"/>
<path d="M349.1,208.4 Q348.6,205.5 343.9,206.7" fill="none" stroke="#111" stroke-width="1.3"/>
<path d="M331.2,215.2 Q332.6,219.0 333.7,218.5" fill="none" stroke="#111" stroke-width="1.0"/>
<path d="M331.8,196.3 Q331.8,198.1 335.5,195.5" fill="none" stroke="#111" stroke-width="1.6"/>
<path d="M345.0,202.8 Q349.0,202.3 349.0,200.7" fill="none" stroke="#111" stroke-width="1.5"/>
<path d="M345.3,233.1 Q347.5,237.0 346.1,237.6" fill="none" stroke="#111" stroke-width="1.0"/>
<path d="M341.0,225.2 Q336.9,223.7 336.5,224.7" fill="none" stroke="#111" stroke-width="1.4"/>
<path d="M355.1,202.5 Q350.0,203.0 349.5,200.2" fill="none" stroke="#111" stroke-width="1.0"/>
<path d="M346.2,184.4 Q344.3,183.3 343.2,181.3" fill="none" stroke="#111" stroke-width="1.2"/>
<path d="M353.0,183.0 Q352.2,183.5 350.1,184.2" fill="none" stroke="#111" stroke-width="1.1"/>
<path d="M367.1,177.9 Q365.1,176.4 363.5,178.9" fill="none" stroke="#111" stroke-width="1.0"/>
<path d="M342.3,205.5 Q337.6,207.0 337.6,207.3" fill="none" stroke="#111" stroke-width="1.0"/>
<path d="M363.8,176.1 Q362.3,175.4 360.6,175.9" fill="none" stroke="#111" stroke-width="1.6"/>
<path d="M348.8,233.0 Q353.3,231.4 354.7,232.8" fill="none" stroke="#111" stroke-width="1.6"/>
<path d="M330.3,195.3 Q333.3,196.5 333.5,193.5" fill="none" stroke="#111" stroke-width="0.9"/>
<path d="M327.4,220.7 Q328.0,225.0 330.9,226.2" fill="none" stroke="#111" stroke-width="1.0"/>
<path d="M331.8,193.5 Q332.3,194.6 332.8,197.4" fill="none" stroke="#111" stroke-width="0.9"/>
<path d="M346.4,217.7 Q351.0,215.0 351.7,215.5" fill="none" stroke="#111" stroke-width="1.4"/>
<path d="M351.5,225.5 Q351.9,224.1 348.6,222.2" fill="none" stroke="#111" stroke-width="1.3"/>
<path d="M358.3,200.3 Q360.5,201.7 363.8,200.1" fill="none" stroke="#111" stroke-width="1.1"/>
<path d="M365.1,211.4 Q362.8,212.1 361.2,216.1" fill="none" stroke="#111" stroke-width="1.4"/>
<path d="M361.4,222.4 Q363.7,225.6 361.3,228.0" fill="none" stroke="#111" stroke-width="1.4"/>
<path d="M348.8,205.5 Q351.1,205.6 352.3,206.3" fill="none" stroke="#111" stroke-width="1.3"/>
<path d="M359.3,200.8 Q357.3,201.0 360.1,206.3" fill="none" stroke="#111" stroke-width="1.1"/>
<path d="M352.1,221.2 Q352.9,222.4 352.9,226.5" fill="none" stroke="#111" stroke-width="1.3"/>
<path d="M341.9,202.3 Q341.9,199.5 345.5,200.8" fill="none" stroke="#111" stroke-width="1.3"/>
<path d="M372.9,191.3 Q368.9,193.2 369.6,193.6" fill="none" stroke="#111" stroke-width="1.3"/>
<path d="M329.1,219.5 Q327.1,219.4 322.8,221.9" fill="none" stroke="#111" stroke-width="1.5"/>
<path d="M359.6,218.4 Q355.7,220.9 356.3,220.6" fill="none" stroke="#111" stroke-width="0.9"/>
<path d="M337.7,184.9 Q339.5,186.4 340.1,187.8" fill="none" stroke="#111" stroke-width="1.3"/>
<path d="M359.8,194.3 Q356.8,198.2 358.3,198.2" fill="none" stroke="#111" stroke-width="1.4"/>
<path d="M350.9,201.9 Q352.4,200.6 354.2,196.9" fill="none" stroke="#111" stroke-width="1.2"/>
<path d="M345.0,215.0 Q344.3,217.9 345.3,218.2" fill="none" stroke="#111" stroke-width="1.4"/>
<path d="M371.4,188.0 Q370.8,192.0 370.9,193.2" fill="none" stroke="#111" stroke-width="1.3"/>
<path d="M334.0,228.5 Q337.8,225.7 337.8,227.7" fill="none" stroke="#111" stroke-width="1.1"/>
<path d="M335.8,232.1 Q337.7,233.0 341.4,230.1" fill="none" stroke="#111" stroke-width="1.1"/>
<path d="M333.9,234.8 Q332.8,235.1 330.0,230.6" fill="none" stroke="#111" stroke-width="1.2"/>
<path d="M371.0,187.4 Q373.6,185.9 374.0,183.7" fill="none" stroke="#111" stroke-width="1.1"/>
<path d="M339.6,230.5 Q340.7,229.7 345.4,233.6" fill="none" stroke="#111" stroke-width="1.0"/>
<path d="M364.5,202.4 Q363.1,204.6 366.4,204.8" fill="none" stroke="#111" stroke-width="1.3"/>
<path d="M359.1,176.1 Q360.8,178.8 364.0,178.3" fill="none" stroke="#111" stroke-width="1.5"/>
<path d="M356.5,201.6 Q361.0,197.2 361.0,196.7" fill="none" stroke="#111" stroke-width="1.0"/>
<path d="M350.3,209.8 Q352.8,208.9 353.9,204.7" fill="none" stroke="#111" stroke-width="1.3"/>
<path d="M342.9,213.3 Q343.9,214.1 347.8,216.8" fill="none" stroke="#111" stroke-width="1.2"/>
<path d="M358.2,212.1 Q356.9,214.1 357.0,217.8" fill="none" stroke="#111" stroke-width="1.6"/>
<path d="M332.6,193.7 Q331.0,192.3 330.3,191.6" fill="none" stroke="#111" stroke-width="1.4"/>
<path d="M328.3,220.7 Q328.2,218.2 324.5,219.8" fill="none" stroke="#111" stroke-width="1.5"/>
<path d="M349.6,205.7 Q352.8,206.1 351.4,211.5" fill="none" stroke="#111" stroke-width="1.2"/>
<path d="M332.0,196.2 Q332.2,200.1 333.9,200.7" fill="none" stroke="#111" stroke-width="1.1"/>
<path d="M362.6,204.3 Q363.3,205.1 363.9,209.9" fill="none" stroke="#111" stroke-width="1.3"/>
<path d="M356.8,226.5 Q356.4,222.9 354.8,220.7" fill="none" stroke="#111" stroke-width="1.2"/>
<path d="M325.2,214.4 Q325.6,214.6 330.8,217.8" fill="none" stroke="#111" stroke-width="1.1"/>
<path d="M368.2,198.0 Q364.5,200.1 363.4,202.5" fill="none" stroke="#111" stroke-width="1.3"/>
<path d="M365.9,177.7 Q363.7,174.3 363.2,174.2" fill="none" stroke="#111" stroke-width="1.5"/>
<path d="M354.4,176.7 Q356.9,179.1 356.7,180.8" fill="none" stroke="#111" stroke-width="1.0"/>
<path d="M328.4,201.4 Q327.5,204.3 328.7,205.1" fill="none" stroke="#111" stroke-width="1.5"/>
<path d="M348.2,217.1 Q348.3,217.6 348.2,221.4" fill="none" stroke="#111" stroke-width="1.1"/>
<path d="M340.3,237.1 Q342.4,233.4 339.9,233.7" fill="none" stroke="#111" stroke-width="1.2"/>
<path d="M368.3,211.4 Q366.6,209.8 367.8,206.7" fill="none" stroke="#111" stroke-width="1.0"/>
<path d="M342.2,225.1 Q345.9,226.5 346.7,226.0" fill="none" stroke="#111" stroke-width="1.3"/>
<path d="M350.1,183.8 Q351.3,187.1 353.5,188.0" fill="none" stroke="#111" stroke-width="1.5"/>
<path d="M330.9,207.0 Q329.6,205.8 330.9,202.3" fill="none" stroke="#111" stroke-width="1.5"/>
<path d="M367.1,180.1 Q369.5,177.6 370.5,175.5" fill="none" stroke="#111" stroke-width="1.1"/>
<path d="M349.7,195.1 Q348.1,197.2 344.4,198.0" fill="none" stroke="#111" stroke-width="1.1"/>
<path d="M332.8,207.6 Q332.0,208.2 329.4,204.4" fill="none" stroke="#111" stroke-width="1.0"/>
<path d="M353.4,176.3 Q353.9,175.6 349.6,179.5" fill="none" stroke="#111" stroke-width="1.3"/>
<path d="M345.3,233.0 Q345.6,232.5 350.0,231.2" fill="none" stroke="#111" stroke-width="1.3"/>
<path d="M359.6,181.1 Q357.7,178.2 355.6,176.2" fill="none" stroke="#111" stroke-width="1.6"/>
<path d="M339.3,231.7 Q335.0,236.1 334.6,235.5" fill="none" stroke="#111" stroke-width="1.1"/>
<path d="M355.9,215.6 Q354.2,216.1 353.4,217.4" fill="none" stroke="#111" stroke-width="1.4"/>
<path d="M336.5,214.0 Q339.2,217.1 337.5,219.9" fill="none" stroke="#111" stroke-width="1.1"/>
<path d="M364.3,188.2 Q366.1,191.4 365.1,191.6" fill="none" stroke="#111" stroke-width="1.3"/>
<path d="M333.2,200.9 Q333.0,205.0 334.2,207.7" fill="none" stroke="#111" stroke-width="1.5"/>
<path d="M366.3,188.0 Q363.7,192.2 364.9,193.0" fill="none" stroke="#111" stroke-width="1.1"/>
<path d="M363.1,194.9 Q361.3,194.7 360.3,197.7" fill="none" stroke="#111" stroke-width="0.9"/>
<path d="M357.4,187.2 Q357.4,188.9 357.5,191.4" fill="none" stroke="#111" stroke-width="1.3"/>
<path d="M352.7,185.1 Q353.4,185.4 358.5,182.3" fill="none" stroke="#111" stroke-width="1.5"/>
<path d="M357.9,194.0 Q356.8,189.1 360.6,189.1" fill="none" stroke="#111" stroke-width="1.6"/>
<path d="M352.0,188.5 Q352.1,190.9 354.8,190.6" fill="none" stroke="#111" stroke-width="1.1"/>
<path d="M346.2,234.8 Q348.6,233.5 347.1,231.2" fill="none" stroke="#111" stroke-width="1.4"/>
<path d="M355.8,173.7 Q355.0,171.6 357.3,167.5" fill="none" stroke="#111" stroke-width="1.3"/>
<path d="M361.1,183.5 Q361.8,180.4 364.9,180.0" fill="none" stroke="#111" stroke-width="1.0"/>
<path d="M345.0,202.2 Q343.2,202.5 341.5,202.9" fill="none" stroke="#111" stroke-width="1.3"/>
<path d="M351.9,203.2 Q353.5,201.9 354.5,199.1" fill="none" stroke="#111" stroke-width="1.5"/>
<path d="M332.8,213.7 Q335.1,214.0 336.0,212.9" fill="none" stroke="#111" stroke-width="0.9"/>
<path d="M347.1,181.1 Q351.5,180.3 351.0,179.3" fill="none" stroke="#111" stroke-width="1.2"/>
<path d="M354.6,202.7 Q353.2,201.8 353.5,197.3" fill="none" stroke="#111" stroke-width="1.2"/>
<path d="M334.1,200.2 Q334.0,197.9 334.6,196.4" fill="none" stroke="#111" stroke-width="1.3"/>
<path d="M363.2,192.3 Q364.3,189.1 365.4,188.2" fill="none" stroke="#111" stroke-width="1.3"/>
<path d="M367.3,209.3 Q367.0,206.3 368.4,205.2" fill="none" stroke="#111" stroke-width="1.3"/>
<path d="M350.6,177.4 Q355.4,178.3 356.3,178.8" fill="none" stroke="#111" stroke-width="0.9"/>
<path d="M348.0,206.6 Q349.8,210.5 350.4,212.8" fill="none" stroke="#111" stroke-width="1.5"/>
<path d="M369.9,198.7 Q368.9,197.3 365.8,195.0" fill="none" stroke="#111" stroke-width="1.4"/>
<path d="M339.1,231.4 Q334.2,230.6 333.3,232.9" fill="none" stroke="#111" stroke-width="0.9"/>
<path d="M369.6,176.7 Q370.0,176.2 367.1,172.9" fill="none" stroke="#111" stroke-width="1.3"/>
<path d="M339.4,221.3 Q337.2,223.0 335.6,223.3" fill="none" stroke="#111" stroke-width="1.6"/>
<path d="M358.8,220.2 Q362.0,221.0 362.1,221.1" fill="none" stroke="#111" stroke-width="1.5"/>
<path d="M347.0,204.5 Q347.1,208.6 342.9,208.0" fill="none" stroke="#111" stroke-width="1.2"/>
<path d="M341.6,206.7 Q338.7,202.8 339.2,203.7" fill="none" stroke="#111" stroke-width="0.9"/>
<path d="M352.9,193.0 Q356.3,190.8 356.1,192.3" fill="none" stroke="#111" stroke-width="0.9"/>
<path d="M356.7,188.4 Q354.3,187.9 356.3,184.7" fill="none" stroke="#111" stroke-width="1.4"/>
<path d="M371.9,189.3 Q375.4,190.5 376.7,192.1" fill="none" stroke="#111" stroke-width="1.6"/>
<path d="M331.7,234.8 Q328.9,234.1 331.0,231.8" fill="none" stroke="#111" stroke-width="1.5"/>
<path d="M354.3,218.2 Q355.9,216.3 353.8,214.6" fill="none" stroke="#111" stroke-width="0.9"/>
<path d="M330.0,216.4 Q325.6,218.9 324.7,218.5" fill="none" stroke="#111" stroke-width="1.2"/>
<path d="M351.8,179.6 Q351.3,183.0 347.9,181.8" fill="none" stroke="#111" stroke-width="1.4"/>
<path d="M344.4,192.2 Q348.6,195.1 350.8,194.8" fill="none" stroke="#111" stroke-width="1.1"/>
<path d="M346.0,176.9 Q346.3,174.2 348.6,172.2" fill="none" stroke="#111" stroke-width="1.5"/>
<path d="M328.1,216.0 Q327.0,213.0 322.8,212.1" fill="none" stroke="#111" stroke-width="0.9"/>
<path d="M337.1,224.1 Q336.4,220.2 331.8,220.9" fill="none" stroke="#111" stroke-width="1.5"/>
<path d="M372.0,181.5 Q371.9,182.1 368.3,179.7" fill="none" stroke="#111" stroke-width="1.4"/>
<path d="M364.9,200.6 Q368.6,200.4 369.4,203.2" fill="none" stroke="#111" stroke-width="1.4"/>
<path d="M361.8,203.1 Q359.4,199.8 357.3,199.5" fill="none" stroke="#111" stroke-width="1.1"/>
<path d="M365.9,176.8 Q365.8,178.6 362.7,177.7" fill="none" stroke="#111" stroke-width="1.1"/>
<path d="M342.1,181.2 Q343.9,180.0 346.0,177.8" fill="none" stroke="#111" stroke-width="1.0"/>
<path d="M345.5,218.5 Q345.2,215.9 344.2,214.3" fill="none" stroke="#111" stroke-width="1.3"/>
<path d="M349.1,211.2 Q349.4,211.8 353.6,211.1" fill="none" stroke="#111" stroke-width="1.5"/>
<path d="M346.4,229.3 Q342.6,229.0 343.6,233.5" fill="none" stroke="#111" stroke-width="1.6"/>
<path d="M368.0,193.4 Q367.6,192.2 364.3,191.7" fill="none" stroke="#111" stroke-width="1.6"/>
<path d="M367.9,177.5 Q367.5,175.6 371.8,176.6" fill="none" stroke="#111" stroke-width="1.0"/>
<path d="M351.5,210.2 Q348.2,211.3 345.4,207.9" fill="none" stroke="#111" stroke-width="1.5"/>
<path d="M357.9,221.8 Q358.8,221.6 355.1,223.9" fill="none" stroke="#111" stroke-width="1.3"/>
<path d="M351.6,174.1 Q350.2,170.4 349.4,170.1" fill="none" stroke="#111" stroke-width="1.6"/>
<path d="M359.2,208.9 Q360.4,211.4 363.1,209.9" fill="none" stroke="#111" stroke-width="1.5"/>
<path d="M355.3,200.0 Q356.7,199.6 356.6,194.3" fill="none" stroke="#111" stroke-width="0.9"/>
<path d="M347.6,231.8 Q349.3,231.1 352.9,229.6" fill="none" stroke="#111" stroke-width="1.4"/>
<path d="M352.1,220.3 Q351.9,220.4 351.9,223.8" fill="none" stroke="#111" stroke-width="1.1"/>
<path d="M348.0,230.2 Q349.4,228.1 353.8,230.7" fill="none" stroke="#111" stroke-width="1.5"/>
<path d="M336.1,236.1 Q336.5,233.4 340.5,231.2" fill="none" stroke="#111" stroke-width="1.0"/>
<path d="M372.7,201.2 Q370.2,201.1 369.4,197.7" fill="none" stroke="#111" stroke-width="1.2"/>
<path d="M349.7,193.1 Q351.1,195.0 350.3,196.3" fill="none" stroke="#111" stroke-width="1.0"/>
<path d="M363.3,196.7 Q360.6,199.4 360.2,198.6" fill="none" stroke="#111" stroke-width="1.1"/>
<path d="M345.4,227.3 Q342.1,232.7 342.7,233.3" fill="none" stroke="#111" stroke-width="0.9"/>
<path d="M371.1,196.0 Q370.6,197.2 372.3,200.8" fill="none" stroke="#111" stroke-width="1.0"/>
<path d="M323.8,220.7 Q325.2,219.6 330.5,220.6" fill="none" stroke="#111" stroke-width="1.5"/>
<path d="M359.6,222.7 Q356.2,227.5 357.7,229.3" fill="none" stroke="#111" stroke-width="1.1"/>
<path d="M349.7,205.9 Q349.4,203.3 352.2,201.4" fill="none" stroke="#111" stroke-width="1.5"/>
<path d="M339.3,229.2 Q341.9,231.7 341.7,232.1" fill="none" stroke="#111" stroke-width="1.0"/>
<path d="M352.2,211.8 Q349.1,208.7 348.3,208.6" fill="none" stroke="#111" stroke-width="1.3"/>
<path d="M360.9,174.8 Q357.1,175.0 357.6,172.9" fill="none" stroke="#111" stroke-width="1.2"/>
<path d="M353.2,196.8 Q355.7,196.6 354.8,192.8" fill="none" stroke="#111" stroke-width="1.2"/>
<path d="M366.2,217.8 Q361.8,216.7 359.8,218.8" fill="none" stroke="#111" stroke-width="1.5"/>
<path d="M339.2,210.9 Q334.9,212.9 335.5,214.8" fill="none" stroke="#111" stroke-width="1.2"/>
<path d="M343.8,199.6 Q345.0,195.7 342.4,193.5" fill="none" stroke="#111" stroke-width="1.4"/>
<path d="M327.1,215.8 Q332.4,217.0 333.1,218.3" fill="none" stroke="#111" stroke-width="1.3"/>
<path d="M338.6,192.2 Q340.6,191.1 345.4,193.1" fill="none" stroke="#111" stroke-width="1.0"/>
<path d="M333.5,232.7 Q336.1,231.4 336.8,233.3" fill="none" stroke="#111" stroke-width="0.9"/>
<path d="M346.1,183.9 Q341.2,185.3 340.3,183.0" fill="none" stroke="#111" stroke-width="1.4"/>
<path d="M354.4,211.3 Q350.8,209.5 349.4,211.5" fill="none" stroke="#111" stroke-width="1.2"/>
<path d="M348.9,228.2 Q350.4,228.1 351.2,225.5" fill="none" stroke="#111" stroke-width="1.0"/>
<path d="M373.8,182.6 Q373.7,184.2 370.2,185.6" fill="none" stroke="#111" stroke-width="1.2"/>
<path d="M371.2,203.6 Q369.3,205.0 369.1,207.0" fill="none" stroke="#111" stroke-width="1.6"/>
<path d="M372.1,180.0 Q371.1,177.1 374.6,174.1" fill="none" stroke="#111" stroke-width="1.6"/>
<path d="M362.1,203.3 Q359.0,204.7 357.2,205.9" fill="none" stroke="#111" stroke-width="0.9"/>
<path d="M332.2,206.4 Q336.3,208.0 335.7,206.9" fill="none" stroke="#111" stroke-width="1.6"/>
<path d="M350.3,177.0 Q350.5,175.6 355.2,172.7" fill="none" stroke="#111" stroke-width="1.1"/>
<path d="M353.9,187.3 Q351.3,185.2 347.5,185.6" fill="none" stroke="#111" stroke-width="1.3"/>
<path d="M325.7,207.0 Q326.0,207.1 324.7,211.1" fill="none" stroke="#111" stroke-width="1.3"/>
<path d="M366.5,206.0 Q366.3,206.7 365.9,210.8" fill="none" stroke="#111" stroke-width="1.0"/>
<path d="M349.6,221.0 Q346.6,220.0 346.2,223.3" fill="none" stroke="#111" stroke-width="1.3"/>
<path d="M369.6,188.5 Q365.6,188.4 364.6,186.1" fill="none" stroke="#111" stroke-width="1.2"/>
<path d="M339.7,189.0 Q336.4,188.0 335.6,189.8" fill="none" stroke="#111" stroke-width="1.3"/>
<path d="M329.7,214.2 Q333.8,213.1 334.1,214.6" fill="none" stroke="#111" stroke-width="1.3"/>
<path d="M339.1,199.5 Q342.6,197.7 343.3,199.2" fill="none" stroke="#111" stroke-width="0.9"/>
<path d="M367.2,194.6 Q369.0,196.6 371.4,196.3" fill="none" stroke="#111" stroke-width="1.0"/>
<path d="M335.3,236.3 Q334.3,233.8 335.0,232.7" fill="none" stroke="#111" stroke-width="1.4"/>
<path d="M347.8,177.8 Q350.1,176.7 350.0,173.2" fill="none" stroke="#111" stroke-width="1.4"/>
<path d="M330.7,199.2 Q327.9,197.8 328.9,192.7" fill="none" stroke="#111" stroke-width="0.9"/>
<path d="M364.9,181.6 Q361.9,181.2 358.1,181.7" fill="none" stroke="#111" stroke-width="1.4"/>
<path d="M370.2,193.1 Q368.2,195.8 366.7,196.4" fill="none" stroke="#111" stroke-width="1.1"/>
<path d="M330.3,212.9 Q330.1,216.1 327.1,215.7" fill="none" stroke="#111" stroke-width="1.2"/>
<path d="M339.5,204.7 Q339.2,206.8 338.3,208.1" fill="none" stroke="#111" stroke-width="1.0"/>
<path d="M364.2,201.5 Q368.3,197.3 367.7,196.2" fill="none" stroke="#111" stroke-width="1.2"/>
<path d="M352.5,203.7 Q355.0,206.6 357.5,205.3" fill="none" stroke="#111" stroke-width="1.4"/>
<path d="M335.6,186.4 Q334.0,185.5 330.6,185.8" fill="none" stroke="#111" stroke-width="1.2"/>
<path d="M346.4,188.7 Q349.3,185.8 351.8,186.9" fill="none" stroke="#111" stroke-width="1.2"/>
<path d="M330.3,211.4 Q329.7,209.9 324.5,208.5" fill="none" stroke="#111" stroke-width="1.2"/>
<path d="M349.0,174.8 Q349.2,175.3 346.2,179.0" fill="none" stroke="#111" stroke-width="1.1"/>
<path d="M369.2,210.6 Q369.4,211.4 365.7,210.3" fill="none" stroke="#111" stroke-width="1.5"/>
<path d="M368.8,213.0 Q366.1,214.0 365.6,214.8" fill="none" stroke="#111" stroke-width="1.3"/>
<path d="M345.8,218.6 Q343.2,219.1 342.1,214.7" fill="none" stroke="#111" stroke-width="1.3"/>
<path d="M358.6,216.6 Q360.0,212.0 359.5,212.5" fill="none" stroke="#111" stroke-width="1.1"/>
<path d="M369.3,189.1 Q368.4,187.7 367.5,185.8" fill="none" stroke="#111" stroke-width="1.1"/>
<path d="M351.9,181.5 Q354.1,179.6 357.2,181.4" fill="none" stroke="#111" stroke-width="1.0"/>
<path d="M356.0,194.6 Q357.6,197.2 359.0,196.7" fill="none" stroke="#111" stroke-width="1.3"/>
<path d="M355.7,198.2 Q357.8,199.5 361.7,198.6" fill="none" stroke="#111" stroke-width="1.1"/>
<path d="M346.4,221.3 Q349.5,222.5 351.8,225.2" fill="none" stroke="#111" stroke-width="1.2"/>
<path d="M343.7,207.4 Q348.0,205.4 347.8,204.0" fill="none" stroke="#111" stroke-width="1.3"/>
<path d="M346.0,211.0 Q348.0,211.7 351.9,208.3" fill="none" stroke="#111" stroke-width="1.5"/>
<path d="M331.7,224.5 Q336.4,222.6 336.5,223.3" fill="none" stroke="#111" stroke-width="1.2"/>
<path d="M356.3,189.1 Q355.1,193.6 354.0,195.2" fill="none" stroke="#111" stroke-width="1.1"/>
<path d="M345.5,224.1 Q345.8,227.6 348.2,230.4" fill="none" stroke="#111" stroke-width="1.0"/>
<path d="M340.6,193.7 Q337.4,196.3 337.9,195.6" fill="none" stroke="#111" stroke-width="1.1"/>
<path d="M342.2,218.3 Q339.5,221.0 341.4,222.1" fill="none" stroke="#111" stroke-width="1.1"/>
<path d="M346.2,231.4 Q349.5,230.7 349.6,233.6" fill="none" stroke="#111" stroke-width="1.2"/>
<path d="M372.5,185.6 Q374.8,186.9 374.8,189.3" fill="none" stroke="#111" stroke-width="1.6"/>
<path d="M337.7,236.6 Q335.5,234.7 333.8,236.5" fill="none" stroke="#111" stroke-width="1.4"/>
<path d="M331.5,233.3 Q328.4,232.7 327.7,231.0" fill="none" stroke="#111" stroke-width="1.0"/>
<path d="M359.0,199.3 Q355.3,200.5 353.8,198.9" fill="none" stroke="#111" stroke-width="1.2"/>
<path d="M353.3,180.3 Q350.3,180.8 351.6,184.5" fill="none" stroke="#111" stroke-width="1.5"/>
<path d="M329.9,223.5 Q331.2,225.2 334.0,226.8" fill="none" stroke="#111" stroke-width="1.1"/>
<path d="M355.5,217.1 Q356.8,217.8 356.0,220.6" fill="none" stroke="#111" stroke-width="1.2"/>
<path d="M372.5,197.8 Q373.0,194.5 377.3,193.4" fill="none" stroke="#111" stroke-width="0.9"/>
<path d="M356.4,177.7 Q355.8,180.6 353.6,181.4" fill="none" stroke="#111" stroke-width="1.1"/>
<path d="M365.0,193.0 Q361.8,193.8 362.5,190.3" fill="none" stroke="#111" stroke-width="1.4"/>
<path d="M352.4,197.9 Q352.7,197.4 356.0,198.8" fill="none" stroke="#111" stroke-width="1.2"/>
<path d="M357.7,214.7 Q358.2,213.6 355.3,211.9" fill="none" stroke="#111" stroke-width="1.4"/>
<path d="M337.6,224.8 Q334.2,224.5 335.8,220.8" fill="none" stroke="#111" stroke-width="1.4"/>
<path d="M345.3,210.3 Q344.7,206.8 348.6,206.0" fill="none" stroke="#111" stroke-width="1.0"/>
<path d="M360.0,192.0 Q360.5,191.4 365.2,188.9" fill="none" stroke="#111" stroke-width="1.2"/>
<path d="M365.9,176.0 Q367.8,177.2 365.3,179.3" fill="none" stroke="#111" stroke-width="1.6"/>
<path d="M358.4,176.1 Q359.5,171.5 361.0,171.3" fill="none" stroke="#111" stroke-width="1.4"/>
<path d="M331.9,207.1 Q334.8,204.1 335.1,205.6" fill="none" stroke="#111" stroke-width="1.4"/>
<path d="M361.8,191.5 Q359.2,190.7 355.2,189.5" fill="none" stroke="#111" stroke-width="1.1"/>
<path d="M356.5,217.4 Q353.9,216.6 353.3,219.4" fill="none" stroke="#111" stroke-width="1.4"/>
<path d="M353.0,188.6 Q352.9,193.3 353.3,193.6" fill="none" stroke="#111" stroke-width="1.1"/>
<path d="M328.2,229.3 Q329.0,232.9 331.5,233.4" fill="none" stroke="#111" stroke-width="1.3"/>
<path d="M357.7,192.0 Q356.2,191.0 355.0,187.3" fill="none" stroke="#111" stroke-width="1.5"/>
<path d="M351.1,220.0 Q347.7,220.4 348.7,222.9" fill="none" stroke="#111" stroke-width="1.0"/>
<path d="M357.5,182.4 Q359.0,183.1 360.7,185.2" fill="none" stroke="#111" stroke-width="1.0"/>
<path d="M350.8,206.9 Q351.7,207.9 356.8,206.6" fill="none" stroke="#111" stroke-width="1.6"/>
<path d="M346.3,197.2 Q342.4,197.5 341.6,197.5" fill="none" stroke="#111" stroke-width="0.9"/>
<path d="M370.2,200.1 Q368.6,196.4 365.5,195.3" fill="none" stroke="#111" stroke-width="1.1"/>
<path d="M349.5,209.6 Q349.0,204.9 350.5,203.4" fill="none" stroke="#111" stroke-width="1.3"/>
<path d="M374.5,185.7 Q377.6,189.6 377.5,191.1" fill="none" stroke="#111" stroke-width="1.1"/>
<path d="M341.7,234.5 Q341.0,235.8 339.8,238.5" fill="none" stroke="#111" stroke-width="1.5"/>
<path d="M346.4,211.0 Q345.5,210.9 341.4,208.7" fill="none" stroke="#111" stroke-width="1.5"/>
<path d="M366.7,204.3 Q363.9,204.8 363.1,204.4" fill="none" stroke="#111" stroke-width="1.0"/>
<path d="M353.6,191.1 Q348.3,190.0 347.2,193.5" fill="none" stroke="#111" stroke-width="1.2"/>
<path d="M341.4,232.6 Q346.4,234.1 347.8,232.7" fill="none" stroke="#111" stroke-width="1.2"/>
<path d="M332.3,227.5 Q329.1,226.9 327.6,227.0" fill="none" stroke="#111" stroke-width="1.4"/>
<path d="M373.3,183.0 Q374.1,185.1 375.5,186.6" fill="none" stroke="#111" stroke-width="1.1"/>
<path d="M346.7,214.1 Q348.0,218.4 344.6,218.5" fill="none" stroke="#111" stroke-width="1.5"/>
<path d="M371.1,210.2 Q366.6,209.0 366.5,206.0" fill="none" stroke="#111" stroke-width="1.3"/>
<path d="M332.6,224.6 Q335.7,222.9 337.3,223.2" fill="none" stroke="#111" stroke-width="1.1"/>
<path d="M354.2,202.4 Q355.0,203.0 356.3,207.7" fill="none" stroke="#111" stroke-width="1.4"/>
<path d="M329.8,215.8 Q328.0,216.6 325.4,218.4" fill="none" stroke="#111" stroke-width="1.0"/>
<path d="M342.0,235.5 Q342.2,233.8 338.7,234.5" fill="none" stroke="#111" stroke-width="1.0"/>
<path d="M342.2,196.1 Q338.2,196.6 337.0,196.4" fill="none" stroke="#111" stroke-width="1.0"/>
<path d="M336.4,194.1 Q336.3,194.9 340.4,196.3" fill="none" stroke="#111" stroke-width="1.5"/>
<path d="M339.3,187.4 Q341.8,186.8 339.4,184.0" fill="none" stroke="#111" stroke-width="1.0"/>
<path d="M365.4,190.7 Q367.4,195.1 368.7,196.8" fill="none" stroke="#111" stroke-width="1.0"/>
<path d="M354.8,197.6 Q352.6,200.3 355.2,202.0" fill="none" stroke="#111" stroke-width="1.0"/>
<path d="M330.5,226.6 Q328.1,229.9 324.6,229.5" fill="none" stroke="#111" stroke-width="1.3"/>
<path d="M373.6,199.0 Q374.2,202.9 376.5,204.2" fill="none" stroke="#111" stroke-width="1.4"/>
<path d="M358.5,196.6 Q358.6,199.8 354.3,200.8" fill="none" stroke="#111" stroke-width="0.9"/>
<path d="M348.5,195.8 Q343.6,197.0 342.5,193.9" fill="none" stroke="#111" stroke-width="1.4"/>
<path d="M341.7,218.1 Q339.1,217.2 335.6,220.1" fill="none" stroke="#111" stroke-width="0.9"/>
<path d="M352.6,229.9 Q352.6,233.2 354.7,234.7" fill="none" stroke="#111" stroke-width="1.2"/>
<path d="M347.5,233.8 Q346.3,235.4 341.9,232.4" fill="none" stroke="#111" stroke-width="0.9"/>
</g>
<ellipse cx="364.5" cy="189.5" rx="6.0" ry="8.6" transform="rotate(30 364.5 189.5)" fill="#fff" stroke="#111" stroke-width="1.4" />
<path d="M367.5,181.5 A4.5,7.5 30 0 0 361.5,197 A5.5,7.5 30 0 1 367.5,181.5 Z" fill="#111"/>
<ellipse cx="365.5" cy="190.0" rx="3.6" ry="6.0" transform="rotate(30 365.5 190.0)" fill="none" stroke="#555" stroke-width="0.8" />
<pattern id="mesh" width="2.2" height="2.2" patternUnits="userSpaceOnUse"><rect width="2.2" height="2.2" fill="#333"/><circle cx="1.1" cy="1.1" r="0.75" fill="#e8e8e8"/></pattern>
<ellipse cx="349.5" cy="200.0" rx="5.1" ry="8.2" transform="rotate(35.095816787026145 349.5 200.0)" fill="url(#mesh)" stroke="#111" stroke-width="1.3" />
<path d="M344.8,206.7 L352.2,211.9 L361.6,198.5 L354.2,193.3Z" fill="url(#mesh)" stroke="none"/>
<path d="M344.8,206.7 L352.2,211.9" fill="none" stroke="#111" stroke-width="1.3"/>
<path d="M354.2,193.3 L361.6,198.5" fill="none" stroke="#111" stroke-width="1.3"/>
<ellipse cx="356.9" cy="205.2" rx="5.1" ry="8.2" transform="rotate(35.095816787026145 356.9 205.2)" fill="#fff" stroke="#111" stroke-width="1.3" />
<ellipse cx="334.5" cy="209.6" rx="5.1" ry="8.2" transform="rotate(39.44005273669049 334.5 209.6)" fill="url(#mesh)" stroke="#111" stroke-width="1.3" />
<path d="M329.3,215.9 L335.5,221.0 L345.9,208.4 L339.7,203.3Z" fill="url(#mesh)" stroke="none"/>
<path d="M329.3,215.9 L335.5,221.0" fill="none" stroke="#111" stroke-width="1.3"/>
<path d="M339.7,203.3 L345.9,208.4" fill="none" stroke="#111" stroke-width="1.3"/>
<ellipse cx="340.7" cy="214.7" rx="5.1" ry="8.2" transform="rotate(39.44005273669049 340.7 214.7)" fill="#fff" stroke="#111" stroke-width="1.3" />
<ellipse cx="345.5" cy="222.4" rx="5.3" ry="8.6" transform="rotate(28.02450053207028 345.5 222.4)" fill="#fff" stroke="#111" stroke-width="1.4" />
<path d="M341.5,230.0 L353.9,236.6 L361.9,221.4 L349.5,214.8Z" fill="#fff" stroke="none"/>
<path d="M341.5,230.0 L353.9,236.6" fill="none" stroke="#111" stroke-width="1.4"/>
<path d="M349.5,214.8 L361.9,221.4" fill="none" stroke="#111" stroke-width="1.4"/>
<ellipse cx="357.9" cy="229.0" rx="5.3" ry="8.6" transform="rotate(28.02450053207028 357.9 229.0)" fill="#fff" stroke="#111" stroke-width="1.4" />
<ellipse cx="357.9" cy="229.0" rx="4.0" ry="6.6" transform="rotate(30 357.9 229.0)" fill="none" stroke="#333" stroke-width="0.8" />
<path d="M380.1,199.4 L397.9,208.7 L408.0,203.6" fill="none" stroke="#1a1a1a" stroke-width="1.0"/>
<path d="M408.0,203.6 L420.0,210.5" fill="none" stroke="#1a1a1a" stroke-width="0.8"/>
<path d="M426.6,199.9 L481.4,230.2 L474.5,233.9" fill="none" stroke="#1a1a1a" stroke-width="1.0"/>
<path d="M370.0,235.7 L410.6,213.7" fill="none" stroke="#1a1a1a" stroke-width="1.0"/>
<path d="M455.2,214.9 L459.6,212.1" fill="none" stroke="#1a1a1a" stroke-width="1.0"/>
<path d="M461.6,225.8 L467.7,222.6" fill="none" stroke="#1a1a1a" stroke-width="1.0"/>
<path d="M445.5,214.9 L449.1,212.9" fill="none" stroke="#1a1a1a" stroke-width="1.0"/>
<path d="M463.8,234.9 L467.2,236.8" fill="none" stroke="#1a1a1a" stroke-width="0.8"/>
<ellipse cx="419.0" cy="209.5" rx="6.5" ry="10.0" transform="rotate(30 419.0 209.5)" fill="none" stroke="#111" stroke-width="1.7" />
<ellipse cx="419.3" cy="209.7" rx="5.0" ry="8.3" transform="rotate(30 419.3 209.7)" fill="none" stroke="#555" stroke-width="0.7" />
<ellipse cx="434.2" cy="219.8" rx="6.0" ry="9.6" transform="rotate(26.56505117707769 434.2 219.8)" fill="#1a1a1a" stroke="#111" stroke-width="1.3" />
<path d="M429.9,228.4 L434.3,230.6 L442.9,213.4 L438.5,211.2Z" fill="#1a1a1a" stroke="none"/>
<path d="M429.9,228.4 L434.3,230.6" fill="none" stroke="#111" stroke-width="1.3"/>
<path d="M438.5,211.2 L442.9,213.4" fill="none" stroke="#111" stroke-width="1.3"/>
<ellipse cx="438.6" cy="222.0" rx="6.0" ry="9.6" transform="rotate(26.56505117707769 438.6 222.0)" fill="#1a1a1a" stroke="#111" stroke-width="1.3" />
<ellipse cx="434.2" cy="219.8" rx="5.9" ry="9.6" transform="rotate(28 434.2 219.8)" fill="none" stroke="#fff" stroke-width="1.0" stroke-dasharray="1.1 1.9"/>
<ellipse cx="438.6" cy="222.0" rx="4.8" ry="8.0" transform="rotate(11.469530332866986 438.6 222.0)" fill="url(#mesh)" stroke="#111" stroke-width="1.3" />
<path d="M437.0,229.8 L443.9,231.2 L447.1,215.6 L440.2,214.2Z" fill="url(#mesh)" stroke="none"/>
<path d="M437.0,229.8 L443.9,231.2" fill="none" stroke="#111" stroke-width="1.3"/>
<path d="M440.2,214.2 L447.1,215.6" fill="none" stroke="#111" stroke-width="1.3"/>
<ellipse cx="445.5" cy="223.4" rx="4.8" ry="8.0" transform="rotate(11.469530332866986 445.5 223.4)" fill="#fff" stroke="#111" stroke-width="1.3" />
<ellipse cx="445.5" cy="223.4" rx="4.8" ry="8.0" transform="rotate(28 445.5 223.4)" fill="#fff" stroke="#111" stroke-width="1.2" />
<ellipse cx="456.6" cy="230.8" rx="4.5" ry="7.2" transform="rotate(28.810793742972937 456.6 230.8)" fill="#111" stroke="#111" stroke-width="1.6" />
<path d="M453.1,237.1 L455.1,238.2 L462.1,225.6 L460.1,224.5Z" fill="#111" stroke="none"/>
<path d="M453.1,237.1 L455.1,238.2" fill="none" stroke="#111" stroke-width="1.6"/>
<path d="M460.1,224.5 L462.1,225.6" fill="none" stroke="#111" stroke-width="1.6"/>
<ellipse cx="458.6" cy="231.9" rx="4.5" ry="7.2" transform="rotate(28.810793742972937 458.6 231.9)" fill="#111" stroke="#111" stroke-width="1.6" />
<ellipse cx="458.6" cy="231.9" rx="3.6" ry="6.0" transform="rotate(30 458.6 231.9)" fill="none" stroke="#eee" stroke-width="0.6" />
<ellipse cx="458.8" cy="232.0" rx="1.2" ry="2.2" transform="rotate(30 458.8 232.0)" fill="#eee" stroke="none" stroke-width="0" />
<ellipse cx="470.5" cy="238.5" rx="4.2" ry="6.4" transform="rotate(28.0724869358533 470.5 238.5)" fill="#222" stroke="#111" stroke-width="1.6" />
<path d="M467.5,244.1 L469.0,244.9 L475.0,233.7 L473.5,232.9Z" fill="#222" stroke="none"/>
<path d="M467.5,244.1 L469.0,244.9" fill="none" stroke="#111" stroke-width="1.6"/>
<path d="M473.5,232.9 L475.0,233.7" fill="none" stroke="#111" stroke-width="1.6"/>
<ellipse cx="472.0" cy="239.3" rx="4.2" ry="6.4" transform="rotate(28.0724869358533 472.0 239.3)" fill="#222" stroke="#111" stroke-width="1.6" />
<ellipse cx="472.0" cy="239.3" rx="2.8" ry="4.4" transform="rotate(30 472.0 239.3)" fill="none" stroke="#ddd" stroke-width="0.9" />
<ellipse cx="472.1" cy="239.4" rx="1.2" ry="1.8" transform="rotate(30 472.1 239.4)" fill="#222" stroke="none" stroke-width="0" />
<path d="M337.9,254.4 L370.0,235.7" fill="none" stroke="#1a1a1a" stroke-width="1.0"/>
<path d="M320.3,237.4 L313.0,241.0 L395.0,286.6 L478.7,335.6 L502.7,324.5" fill="none" stroke="#1a1a1a" stroke-width="1.0"/>
<path d="M405.3,294.1 L423.9,282.8" fill="none" stroke="#1a1a1a" stroke-width="1.0"/>
<path d="M389.2,290.9 L397.3,288.5" fill="none" stroke="#1a1a1a" stroke-width="1.0"/>
<path d="M421.5,245.7 L431.9,243.3 L546.9,310.5 L534.0,316.9" fill="none" stroke="#1a1a1a" stroke-width="1.0"/>
<path d="M440.8,261.1 L451.3,255.4" fill="none" stroke="#1a1a1a" stroke-width="1.0"/>
<path d="M463.9,274.2 L474.4,268.5" fill="none" stroke="#1a1a1a" stroke-width="1.0"/>
<path d="M478.4,270.2 L484.0,266.1" fill="none" stroke="#1a1a1a" stroke-width="1.0"/>
<path d="M488.9,293.5 L503.4,285.5" fill="none" stroke="#1a1a1a" stroke-width="1.0"/>
<path d="M514.7,306.5 L527.6,298.4" fill="none" stroke="#1a1a1a" stroke-width="1.0"/>
<path d="M360.8,234.7 L377.4,239.9" fill="none" stroke="#1a1a1a" stroke-width="0.8" stroke-dasharray="5 2"/>
<path d="M546.0,315.3 L560.0,323.6" fill="none" stroke="#1a1a1a" stroke-width="0.8" stroke-dasharray="6 2"/>
<ellipse cx="382.8" cy="243.6" rx="7.9" ry="13.2" transform="rotate(26.565051177078193 382.8 243.6)" fill="#fff" stroke="#111" stroke-width="2.0" />
<path d="M376.9,255.4 L383.3,258.6 L395.1,235.0 L388.7,231.8Z" fill="#fff" stroke="none"/>
<path d="M376.9,255.4 L383.3,258.6" fill="none" stroke="#111" stroke-width="2.0"/>
<path d="M388.7,231.8 L395.1,235.0" fill="none" stroke="#111" stroke-width="2.0"/>
<ellipse cx="389.2" cy="246.8" rx="7.9" ry="13.2" transform="rotate(26.565051177078193 389.2 246.8)" fill="#fff" stroke="#111" stroke-width="2.0" />
<ellipse cx="389.2" cy="246.8" rx="7.0" ry="11.7" transform="rotate(30 389.2 246.8)" fill="none" stroke="#444" stroke-width="0.8" />
<ellipse cx="387.6" cy="247.1" rx="5.4" ry="9.8" transform="rotate(30 387.6 247.1)" fill="none" stroke="#111" stroke-width="2.3" />
<ellipse cx="407.8" cy="257.8" rx="7.4" ry="11.9" transform="rotate(28.39301942138307 407.8 257.8)" fill="#fff" stroke="#111" stroke-width="1.3" />
<path d="M402.1,268.3 L409.5,272.3 L420.9,251.3 L413.5,247.3Z" fill="#fff" stroke="none"/>
<path d="M402.1,268.3 L409.5,272.3" fill="none" stroke="#111" stroke-width="1.3"/>
<path d="M413.5,247.3 L420.9,251.3" fill="none" stroke="#111" stroke-width="1.3"/>
<ellipse cx="415.2" cy="261.8" rx="7.4" ry="11.9" transform="rotate(28.39301942138307 415.2 261.8)" fill="#fff" stroke="#111" stroke-width="1.3" />
<ellipse cx="415.0" cy="261.8" rx="6.0" ry="9.8" transform="rotate(30 415.0 261.8)" fill="none" stroke="#222" stroke-width="1.0" />
<ellipse cx="415.4" cy="262.0" rx="5.0" ry="8.8" transform="rotate(30 415.4 262.0)" fill="none" stroke="#555" stroke-width="0.7" />
<ellipse cx="431.6" cy="271.6" rx="7.0" ry="11.2" transform="rotate(30 431.6 271.6)" fill="none" stroke="#111" stroke-width="2.0" />
<ellipse cx="431.8" cy="271.7" rx="5.5" ry="9.4" transform="rotate(30 431.8 271.7)" fill="none" stroke="#666" stroke-width="0.6" />
<ellipse cx="449.5" cy="284.0" rx="7.2" ry="12.0" transform="rotate(16.220193695602735 449.5 284.0)" fill="url(#mesh)" stroke="#111" stroke-width="1.8" />
<path d="M446.1,295.5 L457.1,298.7 L463.9,275.7 L452.9,272.5Z" fill="url(#mesh)" stroke="none"/>
<path d="M446.1,295.5 L457.1,298.7" fill="none" stroke="#111" stroke-width="1.8"/>
<path d="M452.9,272.5 L463.9,275.7" fill="none" stroke="#111" stroke-width="1.8"/>
<ellipse cx="460.5" cy="287.2" rx="7.2" ry="12.0" transform="rotate(16.220193695602735 460.5 287.2)" fill="#fff" stroke="#111" stroke-width="1.8" />
<ellipse cx="460.5" cy="287.2" rx="7.2" ry="12.0" transform="rotate(28 460.5 287.2)" fill="#fff" stroke="#111" stroke-width="1.8" />
<ellipse cx="461.8" cy="287.8" rx="5.0" ry="8.8" transform="rotate(28 461.8 287.8)" fill="#fff" stroke="#111" stroke-width="1.5" />
<ellipse cx="462.3" cy="288.0" rx="3.6" ry="6.8" transform="rotate(28 462.3 288.0)" fill="none" stroke="#666" stroke-width="0.7" />
<rect x="457.5" y="278" width="2" height="2" fill="#333"/>
<rect x="465.5" y="282.5" width="2" height="2" fill="#333"/>
<rect x="456" y="294" width="2" height="2" fill="#333"/>
<ellipse cx="477.6" cy="296.8" rx="3.8" ry="6.2" transform="rotate(31.25341927916969 477.6 296.8)" fill="#fff" stroke="#111" stroke-width="1.2" />
<path d="M474.4,302.1 L488.9,310.9 L495.3,300.3 L480.8,291.5Z" fill="#fff" stroke="none"/>
<path d="M474.4,302.1 L488.9,310.9" fill="none" stroke="#111" stroke-width="1.2"/>
<path d="M480.8,291.5 L495.3,300.3" fill="none" stroke="#111" stroke-width="1.2"/>
<ellipse cx="492.1" cy="305.6" rx="3.8" ry="6.2" transform="rotate(31.25341927916969 492.1 305.6)" fill="#fff" stroke="#111" stroke-width="1.2" />
<g transform="translate(492.1 305.6) rotate(30)"><circle cx="5.5" cy="0.0" r="1.6" fill="#fff" stroke="#111" stroke-width="1"/><circle cx="2.8" cy="7.8" r="1.6" fill="#fff" stroke="#111" stroke-width="1"/><circle cx="-2.7" cy="7.8" r="1.6" fill="#fff" stroke="#111" stroke-width="1"/><circle cx="-5.5" cy="0.0" r="1.6" fill="#fff" stroke="#111" stroke-width="1"/><circle cx="-2.8" cy="-7.8" r="1.6" fill="#fff" stroke="#111" stroke-width="1"/><circle cx="2.8" cy="-7.8" r="1.6" fill="#fff" stroke="#111" stroke-width="1"/><ellipse rx="5.5" ry="8.6" fill="#fff" stroke="#111" stroke-width="1.2"/><ellipse cx="0.3" rx="3.4" ry="5.6" fill="#fff" stroke="#333" stroke-width="0.9"/></g>
<ellipse cx="506.7" cy="315.3" rx="5.4" ry="8.6" transform="rotate(30 506.7 315.3)" fill="none" stroke="#111" stroke-width="1.8" />
<ellipse cx="506.9" cy="315.4" rx="4.0" ry="7.0" transform="rotate(30 506.9 315.4)" fill="none" stroke="#777" stroke-width="0.6" />
<ellipse cx="525.7" cy="324.8" rx="7.2" ry="10.4" transform="rotate(30 525.7 324.8)" fill="#fff" stroke="#111" stroke-width="1.1" />
<path d="M517.0,325.0 L519.5,327.0" fill="none" stroke="#1a1a1a" stroke-width="1.4"/>
<path d="M515.5,332.0 L518.0,333.0" fill="none" stroke="#1a1a1a" stroke-width="1.4"/>
<path d="M532.1,366.6 L556.9,354.2" fill="none" stroke="#1a1a1a" stroke-width="1.0"/>
<path d="M560.4,318 L619,286.5 Q623.5,285 623.8,290.5 L623.8,356 L562,387.4 L560.4,386.5 Z" fill="#fff" stroke="#111" stroke-width="1.3" stroke-linejoin="round"/>
<path d="M565.2,320.8 L622.5,290.5 M565.2,320.8 L565.2,387.5" fill="none" stroke="#111" stroke-width="1.1"/>
<path d="M561.5,319.5 L620,288.5" fill="none" stroke="#777" stroke-width="0.6"/>
<ellipse cx="592.7" cy="313.2" rx="3.4" ry="1.9" transform="rotate(-25 592.7 313.2)" fill="#111" stroke="none" stroke-width="0" />
<ellipse cx="610.3" cy="321.1" rx="5.0" ry="6.9" transform="rotate(20 610.3 321.1)" fill="#fff" stroke="#111" stroke-width="1.3" />
<ellipse cx="593.5" cy="330.3" rx="5.0" ry="6.9" transform="rotate(20 593.5 330.3)" fill="#fff" stroke="#111" stroke-width="1.3" />
<ellipse cx="577.1" cy="340.6" rx="5.0" ry="6.9" transform="rotate(20 577.1 340.6)" fill="#fff" stroke="#111" stroke-width="1.3" />
<ellipse cx="593.5" cy="353.2" rx="9.6" ry="12.6" transform="rotate(20 593.5 353.2)" fill="#fff" stroke="#555" stroke-width="0.8" />
<ellipse cx="593.5" cy="353.4" rx="8.3" ry="11.3" transform="rotate(20 593.5 353.4)" fill="#fff" stroke="#111" stroke-width="1.2" />
<g fill="none" stroke="#2a2a2a" stroke-width="1.3">
<rect x="131.5" y="279.5" width="143.4" height="50.2"/>
<line x1="172.3" y1="279.5" x2="172.3" y2="329.7"/>
<rect x="131.5" y="334.8" width="303.5" height="48.2"/>
<line x1="172.5" y1="334.8" x2="172.5" y2="383"/>
<line x1="232" y1="334.8" x2="232" y2="383"/>
<line x1="274" y1="334.8" x2="274" y2="383"/>
<line x1="334.2" y1="334.8" x2="334.2" y2="383"/>
<line x1="375.5" y1="334.8" x2="375.5" y2="383"/>
<line x1="274" y1="383" x2="334.2" y2="334.8" stroke-width="1"/>
</g>
<g fill="none" stroke="#888" stroke-width="1">
<line x1="133" y1="295.3" x2="171" y2="295.3"/>
<line x1="217.4" y1="291" x2="217.4" y2="328"/>
<line x1="134" y1="347.4" x2="171" y2="347.4"/>
<line x1="234" y1="347.4" x2="271.5" y2="347.4"/>
<line x1="335.5" y1="347.4" x2="373.5" y2="347.4"/>
</g>
<text x="147.6" y="292.6" font-size="12.5" fill="#111">9</text>
<path d="M145.8,339.6 Q147.4,338.7 148.6,337.3 L148.6,346.2" fill="none" stroke="#111" stroke-width="1.25"/>
<text x="151.3" y="346.2" font-size="12.4" fill="#111">0</text>
<path d="M246.8,339.6 Q248.4,338.7 249.6,337.3 L249.6,346.2" fill="none" stroke="#111" stroke-width="1.25"/>
<path d="M254.7,339.6 Q256.3,338.7 257.5,337.3 L257.5,346.2" fill="none" stroke="#111" stroke-width="1.25"/>
<path d="M348.0,339.40000000000003 Q349.6,338.5 350.8,337.1 L350.8,346.0" fill="none" stroke="#111" stroke-width="1.25"/>
<text x="354.5" y="346.0" font-size="12.4" fill="#111">2</text>
<text x="180" y="297" font-size="9" fill="#111">36mm</text>
<text x="245" y="297" font-size="9" fill="#111">34mm</text>
<ellipse cx="247.0" cy="167.0" rx="6.8" ry="11.4" transform="rotate(24.753379924411753 247.0 167.0)" fill="#181818" stroke="#111" stroke-width="1.2" />
<path d="M242.2,177.3 L253.6,182.6 L263.1,161.9 L251.8,156.7Z" fill="#181818" stroke="none"/>
<path d="M242.2,177.3 L253.6,182.6" fill="none" stroke="#111" stroke-width="1.2"/>
<path d="M251.8,156.7 L263.1,161.9" fill="none" stroke="#111" stroke-width="1.2"/>
<ellipse cx="258.4" cy="172.2" rx="6.8" ry="11.4" transform="rotate(24.753379924411753 258.4 172.2)" fill="#181818" stroke="#111" stroke-width="1.2" />
<path d="M244.6,177.5 A6.4,10.6 24.8 0 1 253.4,158.3" fill="none" stroke="#fff" stroke-width="1.40" stroke-dasharray="1.10 1.50"/>
<path d="M249.7,180.4 A6.6,11.0 24.8 0 1 259.0,160.4" fill="none" stroke="#fff" stroke-width="1.40" stroke-dasharray="1.10 1.50"/>
<ellipse cx="258.0" cy="172.1" rx="6.3" ry="10.6" transform="rotate(24.753379924411806 258.0 172.1)" fill="#fff" stroke="#111" stroke-width="1.1993263704726715" />
<ellipse cx="259.4" cy="172.7" rx="5.2" ry="9.0" transform="rotate(24.753379924411806 259.4 172.7)" fill="#1c1c1c" stroke="none" stroke-width="0" />
<ellipse cx="259.4" cy="172.7" rx="4.3" ry="7.2" transform="rotate(24.753379924411842 259.4 172.7)" fill="#1c1c1c" stroke="#111" stroke-width="1.0" />
<path d="M256.3,179.2 L261.4,181.5 L267.4,168.5 L262.4,166.2Z" fill="#1c1c1c" stroke="none"/>
<path d="M256.3,179.2 L261.4,181.5" fill="none" stroke="#111" stroke-width="1.0"/>
<path d="M262.4,166.2 L267.4,168.5" fill="none" stroke="#111" stroke-width="1.0"/>
<ellipse cx="264.4" cy="175.0" rx="4.3" ry="7.2" transform="rotate(24.753379924411842 264.4 175.0)" fill="#2a2a2a" stroke="#111" stroke-width="1.0" />
<ellipse cx="263.7" cy="174.7" rx="3.0" ry="4.8" transform="rotate(24.753379924411846 263.7 174.7)" fill="#2a2a2a" stroke="#111" stroke-width="1.2992702346787275" />
<path d="M261.7,179.1 L278.4,186.8 L282.4,178.0 L265.7,170.3Z" fill="#2a2a2a" stroke="none"/>
<path d="M261.7,179.1 L278.4,186.8" fill="none" stroke="#111" stroke-width="1.2992702346787275"/>
<path d="M265.7,170.3 L282.4,178.0" fill="none" stroke="#111" stroke-width="1.2992702346787275"/>
<ellipse cx="280.4" cy="182.4" rx="3.0" ry="4.8" transform="rotate(24.753379924411846 280.4 182.4)" fill="#fff" stroke="#111" stroke-width="1.2992702346787275" />
<path d="M265.0,173.6 L280.1,180.5" fill="none" stroke="#f6f6f6" stroke-width="2.798428197769567"/>
<ellipse cx="280.4" cy="182.4" rx="1.2" ry="2.0" transform="rotate(24.753379924411806 280.4 182.4)" fill="#111" stroke="none" stroke-width="0" />
<ellipse cx="182.5" cy="310.0" rx="5.5" ry="9.2" transform="rotate(22.87090155086854 182.5 310.0)" fill="#181818" stroke="#111" stroke-width="1.2" />
<path d="M178.9,318.5 L188.3,322.5 L195.4,305.4 L186.1,301.5Z" fill="#181818" stroke="none"/>
<path d="M178.9,318.5 L188.3,322.5" fill="none" stroke="#111" stroke-width="1.2"/>
<path d="M186.1,301.5 L195.4,305.4" fill="none" stroke="#111" stroke-width="1.2"/>
<ellipse cx="191.8" cy="313.9" rx="5.5" ry="9.2" transform="rotate(22.87090155086854 191.8 313.9)" fill="#181818" stroke="#111" stroke-width="1.2" />
<path d="M180.8,318.6 A5.2,8.6 22.9 0 1 187.5,302.8" fill="none" stroke="#fff" stroke-width="1.14" stroke-dasharray="0.89 1.22"/>
<path d="M185.1,320.8 A5.4,8.9 22.9 0 1 192.0,304.3" fill="none" stroke="#fff" stroke-width="1.14" stroke-dasharray="0.89 1.22"/>
<ellipse cx="191.6" cy="313.8" rx="5.1" ry="8.6" transform="rotate(22.870901550868478 191.6 313.8)" fill="#fff" stroke="#111" stroke-width="0.9732534888183886" />
<ellipse cx="192.7" cy="314.3" rx="4.2" ry="7.3" transform="rotate(22.870901550868478 192.7 314.3)" fill="#1c1c1c" stroke="none" stroke-width="0" />
<ellipse cx="192.7" cy="314.3" rx="3.5" ry="5.8" transform="rotate(22.870901550868542 192.7 314.3)" fill="#1c1c1c" stroke="#111" stroke-width="1.0" />
<path d="M190.4,319.7 L194.5,321.4 L199.1,310.7 L194.9,308.9Z" fill="#1c1c1c" stroke="none"/>
<path d="M190.4,319.7 L194.5,321.4" fill="none" stroke="#111" stroke-width="1.0"/>
<path d="M194.9,308.9 L199.1,310.7" fill="none" stroke="#111" stroke-width="1.0"/>
<ellipse cx="196.8" cy="316.0" rx="3.5" ry="5.8" transform="rotate(22.870901550868542 196.8 316.0)" fill="#2a2a2a" stroke="#111" stroke-width="1.0" />
<ellipse cx="196.2" cy="315.8" rx="2.4" ry="3.9" transform="rotate(22.870901550868478 196.2 315.8)" fill="#2a2a2a" stroke="#111" stroke-width="1.054357946219921" />
<path d="M194.7,319.4 L208.5,325.2 L211.5,318.0 L197.8,312.2Z" fill="#2a2a2a" stroke="none"/>
<path d="M194.7,319.4 L208.5,325.2" fill="none" stroke="#111" stroke-width="1.054357946219921"/>
<path d="M197.8,312.2 L211.5,318.0" fill="none" stroke="#111" stroke-width="1.054357946219921"/>
<ellipse cx="210.0" cy="321.6" rx="2.4" ry="3.9" transform="rotate(22.870901550868478 210.0 321.6)" fill="#fff" stroke="#111" stroke-width="1.054357946219921" />
<path d="M197.3,314.8 L209.7,320.1" fill="none" stroke="#f6f6f6" stroke-width="2.2709248072429067"/>
<ellipse cx="210.0" cy="321.6" rx="1.0" ry="1.6" transform="rotate(22.870901550868478 210.0 321.6)" fill="#111" stroke="none" stroke-width="0" />
<ellipse cx="140.0" cy="361.0" rx="5.7" ry="9.5" transform="rotate(25.978711329578008 140.0 361.0)" fill="#181818" stroke="#111" stroke-width="1.2" />
<path d="M135.8,369.5 L145.2,374.1 L153.5,357.0 L144.2,352.5Z" fill="#181818" stroke="none"/>
<path d="M135.8,369.5 L145.2,374.1" fill="none" stroke="#111" stroke-width="1.2"/>
<path d="M144.2,352.5 L153.5,357.0" fill="none" stroke="#111" stroke-width="1.2"/>
<ellipse cx="149.3" cy="365.6" rx="5.7" ry="9.5" transform="rotate(25.978711329578008 149.3 365.6)" fill="#181818" stroke="#111" stroke-width="1.2" />
<path d="M137.8,369.7 A5.3,8.8 26.0 0 1 145.5,353.9" fill="none" stroke="#fff" stroke-width="1.16" stroke-dasharray="0.91 1.25"/>
<path d="M142.0,372.2 A5.5,9.1 26.0 0 1 150.1,355.7" fill="none" stroke="#fff" stroke-width="1.16" stroke-dasharray="0.91 1.25"/>
<ellipse cx="149.1" cy="365.4" rx="5.2" ry="8.8" transform="rotate(25.97871132957804 149.1 365.4)" fill="#fff" stroke="#111" stroke-width="0.9975329919071793" />
<ellipse cx="150.2" cy="366.0" rx="4.3" ry="7.5" transform="rotate(25.97871132957804 150.2 366.0)" fill="#1c1c1c" stroke="none" stroke-width="0" />
<ellipse cx="150.2" cy="366.0" rx="3.6" ry="6.0" transform="rotate(25.978711329577976 150.2 366.0)" fill="#1c1c1c" stroke="#111" stroke-width="1.0" />
<path d="M147.6,371.3 L151.7,373.3 L156.9,362.6 L152.8,360.6Z" fill="#1c1c1c" stroke="none"/>
<path d="M147.6,371.3 L151.7,373.3" fill="none" stroke="#111" stroke-width="1.0"/>
<path d="M152.8,360.6 L156.9,362.6" fill="none" stroke="#111" stroke-width="1.0"/>
<ellipse cx="154.3" cy="368.0" rx="3.6" ry="6.0" transform="rotate(25.978711329577976 154.3 368.0)" fill="#2a2a2a" stroke="#111" stroke-width="1.0" />
<ellipse cx="153.8" cy="367.7" rx="2.5" ry="4.0" transform="rotate(25.97871132957804 153.8 367.7)" fill="#2a2a2a" stroke="#111" stroke-width="1.0806607412327776" />
<path d="M152.0,371.3 L165.8,378.0 L169.2,370.8 L155.5,364.1Z" fill="#2a2a2a" stroke="none"/>
<path d="M152.0,371.3 L165.8,378.0" fill="none" stroke="#111" stroke-width="1.0806607412327776"/>
<path d="M155.5,364.1 L169.2,370.8" fill="none" stroke="#111" stroke-width="1.0806607412327776"/>
<ellipse cx="167.5" cy="374.4" rx="2.5" ry="4.0" transform="rotate(25.97871132957804 167.5 374.4)" fill="#fff" stroke="#111" stroke-width="1.0806607412327776" />
<path d="M154.9,366.8 L167.3,372.8" fill="none" stroke="#f6f6f6" stroke-width="2.3275769811167515"/>
<ellipse cx="167.5" cy="374.4" rx="1.0" ry="1.7" transform="rotate(25.97871132957804 167.5 374.4)" fill="#111" stroke="none" stroke-width="0" />
<g fill="none" stroke="#999" stroke-width="0.8"><path d="M147,302 L147,324 Q151.8,329 156.6,324 L156.6,302"/><ellipse cx="151.8" cy="302" rx="4.8" ry="3.2"/><path d="M147.5,306 Q151.8,309 156.2,306 M148,322 Q151,324 153,323 M152,314 L154,312"/></g>
<ellipse cx="226.0" cy="301.0" rx="3.6" ry="5.8" transform="rotate(28.61045966596522 226.0 301.0)" fill="#111" stroke="#111" stroke-width="1.6" />
<path d="M223.2,306.1 L228.7,309.1 L234.3,298.9 L228.8,295.9Z" fill="#111" stroke="none"/>
<path d="M223.2,306.1 L228.7,309.1" fill="none" stroke="#111" stroke-width="1.6"/>
<path d="M228.8,295.9 L234.3,298.9" fill="none" stroke="#111" stroke-width="1.6"/>
<ellipse cx="231.5" cy="304.0" rx="3.6" ry="5.8" transform="rotate(28.61045966596522 231.5 304.0)" fill="#111" stroke="#111" stroke-width="1.6" />
<path d="M223.8,302.5 L229.0,305.3" fill="none" stroke="#f0f0f0" stroke-width="1.6"/>
<ellipse cx="232.0" cy="303.5" rx="6.0" ry="9.6" transform="rotate(29.054604099077146 232.0 303.5)" fill="#fff" stroke="#111" stroke-width="1.6" />
<path d="M227.3,311.9 L231.8,314.4 L241.2,297.6 L236.7,295.1Z" fill="#fff" stroke="none"/>
<path d="M227.3,311.9 L231.8,314.4" fill="none" stroke="#111" stroke-width="1.6"/>
<path d="M236.7,295.1 L241.2,297.6" fill="none" stroke="#111" stroke-width="1.6"/>
<ellipse cx="236.5" cy="306.0" rx="6.0" ry="9.6" transform="rotate(29.054604099077146 236.5 306.0)" fill="#fff" stroke="#111" stroke-width="1.6" />
<ellipse cx="236.8" cy="306.2" rx="5.2" ry="8.3" transform="rotate(30 236.8 306.2)" fill="none" stroke="#111" stroke-width="1.3" />
<ellipse cx="237.0" cy="306.5" rx="5.0" ry="8.0" transform="rotate(26.56505117707799 237.0 306.5)" fill="#fff" stroke="#111" stroke-width="1.3" />
<path d="M233.4,313.7 L242.4,318.2 L249.6,303.8 L240.6,299.3Z" fill="#fff" stroke="none"/>
<path d="M233.4,313.7 L242.4,318.2" fill="none" stroke="#111" stroke-width="1.3"/>
<path d="M240.6,299.3 L249.6,303.8" fill="none" stroke="#111" stroke-width="1.3"/>
<ellipse cx="246.0" cy="311.0" rx="5.0" ry="8.0" transform="rotate(26.56505117707799 246.0 311.0)" fill="#fff" stroke="#111" stroke-width="1.3" />
<ellipse cx="239.6" cy="307.8" rx="4.6" ry="7.8" transform="rotate(30 239.6 307.8)" fill="none" stroke="#111" stroke-width="2.2" />
<ellipse cx="243.2" cy="309.7" rx="4.5" ry="7.6" transform="rotate(30 243.2 309.7)" fill="none" stroke="#111" stroke-width="1.6" />
<ellipse cx="246.0" cy="311.0" rx="3.5" ry="5.6" transform="rotate(26.56505117707799 246.0 311.0)" fill="#fff" stroke="#111" stroke-width="1.4" />
<path d="M243.5,316.0 L249.5,319.0 L254.5,309.0 L248.5,306.0Z" fill="#fff" stroke="none"/>
<path d="M243.5,316.0 L249.5,319.0" fill="none" stroke="#111" stroke-width="1.4"/>
<path d="M248.5,306.0 L254.5,309.0" fill="none" stroke="#111" stroke-width="1.4"/>
<ellipse cx="252.0" cy="314.0" rx="3.5" ry="5.6" transform="rotate(26.56505117707799 252.0 314.0)" fill="#fff" stroke="#111" stroke-width="1.4" />
<ellipse cx="249.0" cy="312.5" rx="3.1" ry="5.2" transform="rotate(30 249.0 312.5)" fill="none" stroke="#111" stroke-width="1.6" />
<ellipse cx="252.0" cy="314.0" rx="3.0" ry="5.0" transform="rotate(30 252.0 314.0)" fill="none" stroke="#222" stroke-width="1.0" />
<ellipse cx="252.0" cy="314.0" rx="1.8" ry="2.9" transform="rotate(29.831105128786596 252.0 314.0)" fill="#2a2a2a" stroke="#111" stroke-width="1.3" />
<path d="M250.6,316.5 L264.9,324.7 L267.7,319.7 L253.4,311.5Z" fill="#2a2a2a" stroke="none"/>
<path d="M250.6,316.5 L264.9,324.7" fill="none" stroke="#111" stroke-width="1.3"/>
<path d="M253.4,311.5 L267.7,319.7" fill="none" stroke="#111" stroke-width="1.3"/>
<ellipse cx="266.3" cy="322.2" rx="1.8" ry="2.9" transform="rotate(29.831105128786596 266.3 322.2)" fill="#ddd" stroke="#111" stroke-width="1.3" />
<path d="M253.5,314.8 L265.2,321.6" fill="none" stroke="#eee" stroke-width="0.9"/>
<g>
<rect x="179.8" y="348.2" width="3.8" height="15" rx="1.9" fill="#fff" stroke="#222" stroke-width="1"/>
<line x1="181.7" y1="350" x2="181.7" y2="361" stroke="#777" stroke-width="1.6" stroke-dasharray="0.9 0.9"/>
<circle cx="181.6" cy="365.6" r="3.7" fill="#111"/>
<rect x="221.1" y="348.2" width="4" height="15" rx="2" fill="#111" stroke="#111" stroke-width="1"/>
<rect x="222.2" y="349.5" width="1.8" height="2" fill="#ddd"/>
<circle cx="223.1" cy="365.6" r="3.7" fill="#111"/>
<path d="M190.7,354.1 A12.9,12.9 0 0 1 215.1,359.5" fill="none" stroke="#111" stroke-width="4.6"/>
<path d="M210.5,359.0 L219.3,359.0 L214.5,366.0 Z" fill="#111"/>
<path d="M213.1,366.8 A12.9,12.9 0 0 1 189.6,362.7" fill="none" stroke="#111" stroke-width="4.6"/>
<path d="M185.4,363.2 L194.2,363.2 L190.2,356.2 Z" fill="#111"/>
</g>
<g stroke="#111">
<path d="M242,356 L243,363 L245,363.5 L245,366.5 L247,366.5 L247,362.5 L250,363 L250,367 L255,367 L255.5,363 L258.5,362.5 L258.5,366.5 L260.5,366.5 L260.5,362.5 L263,361 L263,355 Z" fill="#222" stroke-width="1"/>
<path d="M242,355.5 L248.5,349.8 L258,349.8 L263,355 L258,360.5 L247.5,360.8 Z" fill="#fff" stroke-width="1.3"/>
<ellipse cx="252.6" cy="355.2" rx="6" ry="3.6" fill="none" stroke-width="1.1"/>
<ellipse cx="252.6" cy="355.2" rx="3.2" ry="1.9" fill="#fff" stroke-width="1.1"/>
<path d="M248.5,367 L248.5,378.5 Q252.8,382 257,378.5 L257,367 Z" fill="#fff" stroke-width="1.2"/>
<path d="M248.5,369.5 Q252.8,372.5 257,369.5" fill="none" stroke-width="2.4"/>
<path d="M248.5,373.8 Q252.8,376.8 257,373.8" fill="none" stroke-width="1.8"/>
<line x1="246.5" y1="362" x2="246.5" y2="364" stroke="#fff" stroke-width="0.8"/>
<line x1="259.5" y1="362" x2="259.5" y2="364" stroke="#fff" stroke-width="0.8"/>
</g>
<g transform="translate(288.5 349.4)">
<circle r="11.2" fill="#fff" stroke="#555" stroke-width="2.9"/>
<path d="M-7.5,-7 L6,-1.5 Q9,0 8,2.5 L-7,-2 Q-9.5,-3 -8.5,-5.5 Z" fill="#fff" stroke="#222" stroke-width="1.1"/>
<path d="M-8,-4.2 L7,1" stroke="#333" stroke-width="0.8"/>
<path d="M-8.5,-1 L3.5,3.5" stroke="#333" stroke-width="0.9"/>
<path d="M-1.8,1.5 L1.8,2.5 L3,9.5 L-3,9.5 Z" fill="#111"/>
</g>
<g transform="translate(317.9 368.4)">
<circle r="11.2" fill="#fff" stroke="#555" stroke-width="2.9"/>
<path d="M-7.5,-7 L6,-1.5 Q9,0 8,2.5 L-7,-2 Q-9.5,-3 -8.5,-5.5 Z" fill="#fff" stroke="#222" stroke-width="1.1"/>
<path d="M-8,-4.2 L7,1" stroke="#333" stroke-width="0.8"/>
<path d="M-8.5,-1 L3.5,3.5" stroke="#333" stroke-width="0.9"/>
<path d="M-1.8,1.5 L1.8,2.5 L3,9.5 L-3,9.5 Z" fill="#111"/>
</g>
<path d="M350.0,354.4 L370.0,364.9 L372.0,361.1 L352.0,350.6Z" fill="#4a4a4a" stroke="#111" stroke-width="1.3" stroke-linejoin="round"/>
<path d="M350.5,353.4 L370.5,363.9" fill="none" stroke="#eee" stroke-width="1.0"/>
<ellipse cx="338.6" cy="369.3" rx="2.9" ry="4.7" transform="rotate(29.80094368561927 338.6 369.3)" fill="#fff" stroke="#111" stroke-width="1.2" />
<path d="M336.3,373.4 L347.3,379.7 L351.9,371.5 L340.9,365.2Z" fill="#fff" stroke="none"/>
<path d="M336.3,373.4 L347.3,379.7" fill="none" stroke="#111" stroke-width="1.2"/>
<path d="M340.9,365.2 L351.9,371.5" fill="none" stroke="#111" stroke-width="1.2"/>
<ellipse cx="349.6" cy="375.6" rx="2.9" ry="4.7" transform="rotate(29.80094368561927 349.6 375.6)" fill="#fff" stroke="#111" stroke-width="1.2" />
<ellipse cx="355.0" cy="365.5" rx="3.5" ry="5.6" transform="rotate(29.699154427549974 355.0 365.5)" fill="#fff" stroke="#111" stroke-width="1.1" />
<path d="M352.2,370.4 L365.7,378.1 L371.3,368.3 L357.8,360.6Z" fill="#fff" stroke="none"/>
<path d="M352.2,370.4 L365.7,378.1" fill="none" stroke="#111" stroke-width="1.1"/>
<path d="M357.8,360.6 L371.3,368.3" fill="none" stroke="#111" stroke-width="1.1"/>
<ellipse cx="368.5" cy="373.2" rx="3.5" ry="5.6" transform="rotate(29.699154427549974 368.5 373.2)" fill="#fff" stroke="#111" stroke-width="1.1" />
<g transform="translate(369 373.4) rotate(30)"><ellipse rx="4.4" ry="6.8" fill="#fff" stroke="#111" stroke-width="1.4"/><circle cx="0" cy="-3.8" r="1" fill="#111"/><circle cx="0" cy="3.8" r="1" fill="#111"/><circle cx="-1.5" cy="0" r="1" fill="#111"/></g>
<g stroke="#111" fill="#fff">
<rect x="381" y="339.9" width="13.2" height="39.7" stroke-width="1.3"/>
<line x1="382.8" y1="339.9" x2="382.8" y2="379.6" stroke-width="1"/>
<line x1="387" y1="341" x2="387" y2="379" stroke-width="0.6" stroke="#888"/>
<line x1="389.4" y1="341" x2="389.4" y2="379" stroke-width="0.6" stroke="#888"/>
<line x1="392.6" y1="339.9" x2="392.6" y2="379.6" stroke-width="1"/>
<rect x="394.2" y="344.8" width="5.6" height="34.8" stroke-width="1.1"/>
<rect x="395.6" y="347" width="3.6" height="11" stroke-width="0.8"/>
<rect x="395.6" y="361.4" width="3.6" height="3.3" stroke-width="0.8"/>
<path d="M399.8,363.6 L402,363.6 Q403.3,364.5 403.3,366 L403.3,379.6 L399.8,379.6" stroke-width="1.1"/>
<path d="M399.8,347 Q401.5,349 401.2,356 Q401,359 399.8,360" fill="none" stroke-width="1.1"/>
<circle cx="387.6" cy="359.2" r="2.6" fill="#fff" stroke-width="1.8"/>
<ellipse cx="387.2" cy="376.3" rx="2.9" ry="2.1" fill="#fff" stroke-width="1.6"/>
<rect x="405.3" y="348.8" width="4.4" height="8.2" rx="1.5" fill="#fff" stroke-width="1.3"/>
</g>
<rect x="405.3" y="368" width="10" height="7.2" fill="#222"/>
<g stroke="#bbb" stroke-width="0.5"><line x1="407.5" y1="368" x2="407.5" y2="375"/><line x1="409.8" y1="368" x2="409.8" y2="375"/><line x1="412.1" y1="368" x2="412.1" y2="375"/><line x1="414.2" y1="368" x2="414.2" y2="375"/></g>
<line x1="403.3" y1="371.6" x2="405.3" y2="371.6" stroke="#111" stroke-width="1"/>
<line x1="401" y1="352.8" x2="405.3" y2="352.8" stroke="#777" stroke-width="0.8"/>
<g stroke="#111" stroke-width="1.1"><line x1="409.7" y1="352" x2="418.1" y2="352"/><line x1="409.7" y1="354.9" x2="418.1" y2="354.9"/></g>
<g stroke="#999" stroke-width="0.8"><line x1="418.1" y1="352" x2="425.8" y2="352"/><line x1="418.1" y1="354.9" x2="425.8" y2="354.9"/></g>
<g fill="none" stroke="#aaa" stroke-width="0.8"><path d="M418.1,344.9 L418.1,351.7 M425.2,344.9 L425.2,351.7 M417.8,344.9 L418.7,344.9 M430.5,344.9 L435,344.9"/></g>
<g stroke="#222" stroke-width="1.3"><line x1="413" y1="344.9" x2="417.8" y2="344.9"/><line x1="426" y1="344.9" x2="430.5" y2="344.9"/></g>

<text x="397.6" y="344" font-size="9" fill="#222">+25</text>
</svg>
</body></html>
